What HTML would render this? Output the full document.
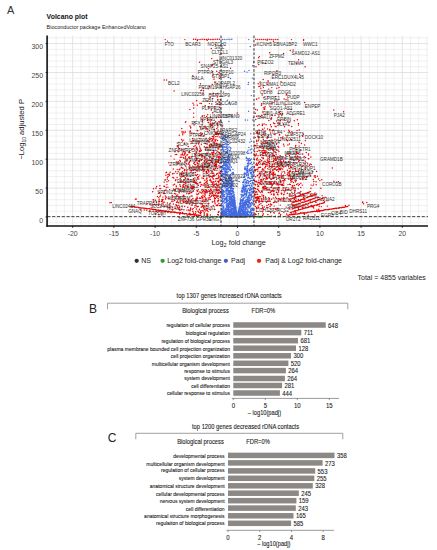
<!DOCTYPE html><html><head><meta charset="utf-8"><style>html,body{margin:0;padding:0;background:#fff;width:437px;height:550px;overflow:hidden}svg{display:block}text{font-family:"Liberation Sans",sans-serif}</style></head><body>
<svg width="437" height="550" viewBox="0 0 437 550">
<rect width="437" height="550" fill="#fff"/>
<text x="7" y="14.4" font-size="11" fill="#333">A</text>
<text x="46.6" y="19.2" font-size="6.9" font-weight="bold" fill="#111">Volcano plot</text>
<text x="46.6" y="29.4" font-size="5.45" fill="#222">Bioconductor package EnhancedVolcano</text>
<line x1="47.98" y1="35.6" x2="47.98" y2="226" stroke="#e8e8e8" stroke-width="0.6"/><line x1="56.22" y1="35.6" x2="56.22" y2="226" stroke="#e8e8e8" stroke-width="0.6"/><line x1="64.46" y1="35.6" x2="64.46" y2="226" stroke="#e8e8e8" stroke-width="0.6"/><line x1="72.70" y1="35.6" x2="72.70" y2="226" stroke="#dcdcdc" stroke-width="0.8"/><line x1="80.94" y1="35.6" x2="80.94" y2="226" stroke="#e8e8e8" stroke-width="0.6"/><line x1="89.18" y1="35.6" x2="89.18" y2="226" stroke="#e8e8e8" stroke-width="0.6"/><line x1="97.42" y1="35.6" x2="97.42" y2="226" stroke="#e8e8e8" stroke-width="0.6"/><line x1="105.66" y1="35.6" x2="105.66" y2="226" stroke="#e8e8e8" stroke-width="0.6"/><line x1="113.90" y1="35.6" x2="113.90" y2="226" stroke="#dcdcdc" stroke-width="0.8"/><line x1="122.14" y1="35.6" x2="122.14" y2="226" stroke="#e8e8e8" stroke-width="0.6"/><line x1="130.38" y1="35.6" x2="130.38" y2="226" stroke="#e8e8e8" stroke-width="0.6"/><line x1="138.62" y1="35.6" x2="138.62" y2="226" stroke="#e8e8e8" stroke-width="0.6"/><line x1="146.86" y1="35.6" x2="146.86" y2="226" stroke="#e8e8e8" stroke-width="0.6"/><line x1="155.10" y1="35.6" x2="155.10" y2="226" stroke="#dcdcdc" stroke-width="0.8"/><line x1="163.34" y1="35.6" x2="163.34" y2="226" stroke="#e8e8e8" stroke-width="0.6"/><line x1="171.58" y1="35.6" x2="171.58" y2="226" stroke="#e8e8e8" stroke-width="0.6"/><line x1="179.82" y1="35.6" x2="179.82" y2="226" stroke="#e8e8e8" stroke-width="0.6"/><line x1="188.06" y1="35.6" x2="188.06" y2="226" stroke="#e8e8e8" stroke-width="0.6"/><line x1="196.30" y1="35.6" x2="196.30" y2="226" stroke="#dcdcdc" stroke-width="0.8"/><line x1="204.54" y1="35.6" x2="204.54" y2="226" stroke="#e8e8e8" stroke-width="0.6"/><line x1="212.78" y1="35.6" x2="212.78" y2="226" stroke="#e8e8e8" stroke-width="0.6"/><line x1="221.02" y1="35.6" x2="221.02" y2="226" stroke="#e8e8e8" stroke-width="0.6"/><line x1="229.26" y1="35.6" x2="229.26" y2="226" stroke="#e8e8e8" stroke-width="0.6"/><line x1="237.50" y1="35.6" x2="237.50" y2="226" stroke="#dcdcdc" stroke-width="0.8"/><line x1="245.74" y1="35.6" x2="245.74" y2="226" stroke="#e8e8e8" stroke-width="0.6"/><line x1="253.98" y1="35.6" x2="253.98" y2="226" stroke="#e8e8e8" stroke-width="0.6"/><line x1="262.22" y1="35.6" x2="262.22" y2="226" stroke="#e8e8e8" stroke-width="0.6"/><line x1="270.46" y1="35.6" x2="270.46" y2="226" stroke="#e8e8e8" stroke-width="0.6"/><line x1="278.70" y1="35.6" x2="278.70" y2="226" stroke="#dcdcdc" stroke-width="0.8"/><line x1="286.94" y1="35.6" x2="286.94" y2="226" stroke="#e8e8e8" stroke-width="0.6"/><line x1="295.18" y1="35.6" x2="295.18" y2="226" stroke="#e8e8e8" stroke-width="0.6"/><line x1="303.42" y1="35.6" x2="303.42" y2="226" stroke="#e8e8e8" stroke-width="0.6"/><line x1="311.66" y1="35.6" x2="311.66" y2="226" stroke="#e8e8e8" stroke-width="0.6"/><line x1="319.90" y1="35.6" x2="319.90" y2="226" stroke="#dcdcdc" stroke-width="0.8"/><line x1="328.14" y1="35.6" x2="328.14" y2="226" stroke="#e8e8e8" stroke-width="0.6"/><line x1="336.38" y1="35.6" x2="336.38" y2="226" stroke="#e8e8e8" stroke-width="0.6"/><line x1="344.62" y1="35.6" x2="344.62" y2="226" stroke="#e8e8e8" stroke-width="0.6"/><line x1="352.86" y1="35.6" x2="352.86" y2="226" stroke="#e8e8e8" stroke-width="0.6"/><line x1="361.10" y1="35.6" x2="361.10" y2="226" stroke="#dcdcdc" stroke-width="0.8"/><line x1="369.34" y1="35.6" x2="369.34" y2="226" stroke="#e8e8e8" stroke-width="0.6"/><line x1="377.58" y1="35.6" x2="377.58" y2="226" stroke="#e8e8e8" stroke-width="0.6"/><line x1="385.82" y1="35.6" x2="385.82" y2="226" stroke="#e8e8e8" stroke-width="0.6"/><line x1="394.06" y1="35.6" x2="394.06" y2="226" stroke="#e8e8e8" stroke-width="0.6"/><line x1="402.30" y1="35.6" x2="402.30" y2="226" stroke="#dcdcdc" stroke-width="0.8"/><line x1="410.54" y1="35.6" x2="410.54" y2="226" stroke="#e8e8e8" stroke-width="0.6"/><line x1="418.78" y1="35.6" x2="418.78" y2="226" stroke="#e8e8e8" stroke-width="0.6"/><line x1="427.02" y1="35.6" x2="427.02" y2="226" stroke="#e8e8e8" stroke-width="0.6"/><line x1="47.4" y1="222.78" x2="428" y2="222.78" stroke="#e8e8e8" stroke-width="0.6"/><line x1="47.4" y1="217.00" x2="428" y2="217.00" stroke="#dcdcdc" stroke-width="0.8"/><line x1="47.4" y1="211.22" x2="428" y2="211.22" stroke="#e8e8e8" stroke-width="0.6"/><line x1="47.4" y1="205.44" x2="428" y2="205.44" stroke="#e8e8e8" stroke-width="0.6"/><line x1="47.4" y1="199.66" x2="428" y2="199.66" stroke="#e8e8e8" stroke-width="0.6"/><line x1="47.4" y1="193.88" x2="428" y2="193.88" stroke="#e8e8e8" stroke-width="0.6"/><line x1="47.4" y1="188.10" x2="428" y2="188.10" stroke="#dcdcdc" stroke-width="0.8"/><line x1="47.4" y1="182.32" x2="428" y2="182.32" stroke="#e8e8e8" stroke-width="0.6"/><line x1="47.4" y1="176.54" x2="428" y2="176.54" stroke="#e8e8e8" stroke-width="0.6"/><line x1="47.4" y1="170.76" x2="428" y2="170.76" stroke="#e8e8e8" stroke-width="0.6"/><line x1="47.4" y1="164.98" x2="428" y2="164.98" stroke="#e8e8e8" stroke-width="0.6"/><line x1="47.4" y1="159.20" x2="428" y2="159.20" stroke="#dcdcdc" stroke-width="0.8"/><line x1="47.4" y1="153.42" x2="428" y2="153.42" stroke="#e8e8e8" stroke-width="0.6"/><line x1="47.4" y1="147.64" x2="428" y2="147.64" stroke="#e8e8e8" stroke-width="0.6"/><line x1="47.4" y1="141.86" x2="428" y2="141.86" stroke="#e8e8e8" stroke-width="0.6"/><line x1="47.4" y1="136.08" x2="428" y2="136.08" stroke="#e8e8e8" stroke-width="0.6"/><line x1="47.4" y1="130.30" x2="428" y2="130.30" stroke="#dcdcdc" stroke-width="0.8"/><line x1="47.4" y1="124.52" x2="428" y2="124.52" stroke="#e8e8e8" stroke-width="0.6"/><line x1="47.4" y1="118.74" x2="428" y2="118.74" stroke="#e8e8e8" stroke-width="0.6"/><line x1="47.4" y1="112.96" x2="428" y2="112.96" stroke="#e8e8e8" stroke-width="0.6"/><line x1="47.4" y1="107.18" x2="428" y2="107.18" stroke="#e8e8e8" stroke-width="0.6"/><line x1="47.4" y1="101.40" x2="428" y2="101.40" stroke="#dcdcdc" stroke-width="0.8"/><line x1="47.4" y1="95.62" x2="428" y2="95.62" stroke="#e8e8e8" stroke-width="0.6"/><line x1="47.4" y1="89.84" x2="428" y2="89.84" stroke="#e8e8e8" stroke-width="0.6"/><line x1="47.4" y1="84.06" x2="428" y2="84.06" stroke="#e8e8e8" stroke-width="0.6"/><line x1="47.4" y1="78.28" x2="428" y2="78.28" stroke="#e8e8e8" stroke-width="0.6"/><line x1="47.4" y1="72.50" x2="428" y2="72.50" stroke="#dcdcdc" stroke-width="0.8"/><line x1="47.4" y1="66.72" x2="428" y2="66.72" stroke="#e8e8e8" stroke-width="0.6"/><line x1="47.4" y1="60.94" x2="428" y2="60.94" stroke="#e8e8e8" stroke-width="0.6"/><line x1="47.4" y1="55.16" x2="428" y2="55.16" stroke="#e8e8e8" stroke-width="0.6"/><line x1="47.4" y1="49.38" x2="428" y2="49.38" stroke="#e8e8e8" stroke-width="0.6"/><line x1="47.4" y1="43.60" x2="428" y2="43.60" stroke="#dcdcdc" stroke-width="0.8"/><line x1="47.4" y1="37.82" x2="428" y2="37.82" stroke="#e8e8e8" stroke-width="0.6"/>
<text x="270.1" y="212.2" font-size="4.6" fill="#333">SORCS2</text>
<text x="256.0" y="212.2" font-size="4.6" fill="#333">CDH12</text>
<text x="287.2" y="207.5" font-size="4.6" fill="#333">SDK1</text>
<text x="292.2" y="207.5" font-size="4.6" fill="#333">NKAIN3</text>
<text x="255.9" y="201.6" font-size="4.6" fill="#333">PLCB1</text>
<text x="274.3" y="201.6" font-size="4.6" fill="#333">LINC01122</text>
<text x="288.6" y="197.1" font-size="4.6" fill="#333">ERC2</text>
<text x="299.5" y="197.1" font-size="4.6" fill="#333">MECOM</text>
<text x="281.7" y="191.2" font-size="4.6" fill="#333">CELF2</text>
<text x="262.1" y="191.2" font-size="4.6" fill="#333">MECOM</text>
<text x="258.3" y="185.4" font-size="4.6" fill="#333">UNC5C</text>
<text x="266.0" y="185.4" font-size="4.6" fill="#333">NCAM2</text>
<text x="277.5" y="179.1" font-size="4.6" fill="#333">TBC1D5</text>
<text x="262.3" y="179.1" font-size="4.6" fill="#333">COL4A1</text>
<text x="287.9" y="174.7" font-size="4.6" fill="#333">OPCML</text>
<text x="258.8" y="174.7" font-size="4.6" fill="#333">SGCD</text>
<text x="290.0" y="169.9" font-size="4.6" fill="#333">NRG1</text>
<text x="268.1" y="169.9" font-size="4.6" fill="#333">SGCD</text>
<text x="258.1" y="165.0" font-size="4.6" fill="#333">GALNTL6</text>
<text x="276.9" y="165.0" font-size="4.6" fill="#333">FBXL7</text>
<text x="279.6" y="159.7" font-size="4.6" fill="#333">ZNF385D</text>
<text x="267.1" y="159.7" font-size="4.6" fill="#333">PTPRM</text>
<text x="284.5" y="155.4" font-size="4.6" fill="#333">NRG1</text>
<text x="286.0" y="155.4" font-size="4.6" fill="#333">AKAP6</text>
<text x="255.9" y="148.9" font-size="4.6" fill="#333">FAM155A</text>
<text x="260.3" y="143.6" font-size="4.6" fill="#333">MSRA</text>
<text x="202.8" y="210.1" font-size="4.6" fill="#333">NRG1</text>
<text x="166.9" y="210.1" font-size="4.6" fill="#333">NCAM2</text>
<text x="185.8" y="204.3" font-size="4.6" fill="#333">LINC02055</text>
<text x="179.3" y="204.3" font-size="4.6" fill="#333">CAMK2D</text>
<text x="174.2" y="199.5" font-size="4.6" fill="#333">PTPRM</text>
<text x="168.1" y="199.5" font-size="4.6" fill="#333">MDGA2</text>
<text x="203.3" y="193.0" font-size="4.6" fill="#333">GALNTL6</text>
<text x="177.9" y="193.0" font-size="4.6" fill="#333">PRKN</text>
<text x="182.8" y="188.1" font-size="4.6" fill="#333">MAML2</text>
<text x="204.2" y="188.1" font-size="4.6" fill="#333">ESRRG</text>
<text x="179.6" y="183.1" font-size="4.6" fill="#333">ABCA13</text>
<text x="176.9" y="183.1" font-size="4.6" fill="#333">DLGAP1</text>
<text x="179.0" y="177.2" font-size="4.6" fill="#333">CDK14</text>
<text x="202.5" y="177.2" font-size="4.6" fill="#333">ERC2</text>
<text x="206.4" y="171.0" font-size="4.6" fill="#333">FBXL7</text>
<text x="189.6" y="171.0" font-size="4.6" fill="#333">GRIK2</text>
<text x="197.0" y="166.5" font-size="4.6" fill="#333">DAB1</text>
<text x="203.2" y="161.2" font-size="4.6" fill="#333">SLC8A1</text>
<text x="202.2" y="156.5" font-size="4.6" fill="#333">CACNA1C</text>
<text x="204.9" y="151.4" font-size="4.6" fill="#333">SGCD</text>
<text x="209.3" y="146.9" font-size="4.6" fill="#333">GPHN</text>
<text x="189.3" y="141.6" font-size="4.6" fill="#333">LINC00609</text>
<path d="M167.5 41.1h0M197.4 40.4h0M207.2 40.3h0M215.3 44.4h0M211.3 48.5h0M219.9 54.4h0M211.7 58.6h0M199.6 62.3h0M208.3 68.8h0M230.6 68.2h0M213.0 74.1h0M192.9 75.7h0M166.6 80.0h0M214.0 79.2h0M200.5 83.8h0M217.3 83.5h0M201.7 90.2h0M223.6 92.1h0M210.1 97.2h0M217.6 99.7h0M217.2 104.0h0M219.6 107.3h0M212.7 112.8h0M202.3 116.0h0M237.2 113.0h0M202.0 119.2h0M207.5 120.5h0M202.1 125.1h0M205.9 128.9h0M190.3 131.2h0M222.1 126.8h0M220.5 131.3h0M222.4 133.9h0M267.1 40.2h0M273.4 41.2h0M303.6 40.2h0M269.7 52.7h0M293.2 49.9h0M258.6 57.8h0M298.6 59.8h0M276.9 70.7h0M273.2 74.3h0M299.6 74.3h0M260.1 82.0h0M281.0 81.7h0M260.8 88.3h0M276.8 88.2h0M286.7 94.3h0M262.2 94.9h0M274.8 100.7h0M277.1 99.9h0M304.7 102.5h0M271.1 104.1h0M288.1 109.1h0M264.2 109.3h0M267.4 114.2h0M278.9 115.9h0M276.5 121.0h0M343.6 111.7h0M264.4 128.1h0M269.6 129.5h0M289.3 131.5h0M303.5 134.3h0M257.5 133.6h0M299.7 136.2h0" stroke="#e80000" stroke-width="1.45" stroke-linecap="round"/>
<path d="M233.9 216.5h0M250.2 216.3h0M240.0 216.6h0M240.1 217.0h0M246.0 216.6h0M240.7 216.7h0M243.5 216.9h0M228.6 216.4h0M234.8 216.4h0M231.3 216.4h0M242.9 216.9h0M245.4 216.6h0M236.4 216.5h0M253.7 216.7h0M231.2 216.9h0M238.5 217.0h0M243.3 216.7h0M231.6 216.6h0M235.8 216.3h0M226.6 216.3h0M234.2 216.9h0M229.5 216.6h0M231.2 217.0h0M249.3 216.5h0M235.7 216.6h0M231.1 216.6h0M241.2 216.8h0M228.1 216.8h0M231.3 216.6h0M238.4 216.3h0M231.2 216.3h0M244.6 216.9h0M236.0 216.5h0M244.3 216.9h0M230.3 216.9h0M230.2 216.9h0M243.3 216.6h0M242.1 216.6h0M247.3 216.7h0M233.4 216.5h0M232.6 216.7h0M233.0 216.8h0M238.5 216.6h0M233.8 216.8h0M229.7 216.8h0M241.2 216.3h0M247.6 216.8h0M237.7 216.7h0M241.5 217.0h0M237.6 216.8h0M233.6 216.8h0M234.6 216.8h0M233.0 216.3h0M234.5 216.9h0M233.5 216.4h0M234.7 217.0h0M233.1 216.9h0M242.3 216.9h0M228.9 216.4h0M238.4 216.6h0M240.5 216.7h0M235.9 216.6h0M227.4 216.6h0M234.9 216.9h0M240.2 216.5h0M243.8 216.3h0M235.5 216.6h0M240.4 216.3h0M228.7 216.6h0M228.6 216.8h0M239.2 217.0h0M241.4 216.3h0M229.9 216.3h0M236.9 216.4h0M243.7 216.8h0M242.2 216.5h0M234.5 216.9h0M238.0 216.3h0M229.8 216.6h0M226.3 216.6h0M240.3 216.3h0M246.3 216.7h0M221.0 216.9h0M234.2 216.3h0M243.7 216.3h0M230.0 216.7h0M242.9 216.6h0M234.0 216.7h0M232.6 216.4h0M235.1 216.8h0M236.2 216.4h0M238.2 216.9h0M226.6 216.4h0M244.3 216.6h0M243.5 216.7h0M242.1 216.8h0M234.8 217.0h0M232.3 217.0h0M231.4 217.0h0M242.9 216.9h0M242.4 216.4h0M230.0 216.9h0M237.4 216.8h0M242.7 216.3h0M250.5 216.6h0M242.2 216.3h0M239.8 216.5h0M252.1 216.7h0M228.4 216.3h0M245.7 217.0h0M235.4 216.7h0M236.4 216.9h0M248.0 216.6h0M223.8 216.8h0M246.0 216.8h0M244.7 216.5h0M237.2 216.3h0M231.9 217.0h0M233.2 216.8h0M233.8 216.6h0M239.2 216.6h0M222.0 216.5h0M244.5 216.6h0M222.6 216.4h0M245.2 216.9h0M231.4 216.6h0M233.7 216.5h0M239.2 216.8h0M222.1 216.8h0M241.3 216.6h0M240.7 216.4h0M253.0 216.3h0M253.9 216.8h0M240.7 217.0h0M239.5 216.7h0M226.7 216.4h0M238.7 216.6h0M235.2 216.3h0M230.8 216.5h0M245.8 216.6h0M235.7 216.7h0M236.3 216.4h0M250.0 216.8h0M239.7 216.3h0M234.7 216.7h0M244.6 216.8h0M234.9 216.8h0M251.0 216.3h0M238.7 216.8h0M230.3 216.9h0M237.0 216.5h0M228.5 216.4h0M239.5 216.4h0M231.9 216.7h0M244.7 217.0h0M238.2 216.7h0M238.2 216.7h0M236.3 216.8h0M245.0 216.4h0M235.2 216.4h0M243.8 216.8h0M228.1 216.7h0M233.5 216.8h0M238.0 216.9h0M244.0 216.8h0M233.7 216.7h0M237.5 216.8h0M240.6 217.0h0M221.9 216.4h0M232.3 216.5h0M239.1 216.7h0M235.6 217.0h0M228.5 216.5h0M237.4 216.8h0M229.8 216.3h0M230.6 216.3h0M229.5 216.4h0M241.1 216.7h0M240.8 216.3h0M248.4 216.5h0M244.6 216.4h0M241.7 216.4h0M228.1 216.7h0M252.1 216.7h0M236.4 216.9h0M233.5 216.6h0M232.1 216.8h0M237.5 216.9h0M227.7 216.3h0M241.4 216.7h0M241.0 216.9h0M241.2 216.5h0M238.9 216.6h0M231.3 216.4h0M242.7 216.3h0M237.4 216.4h0M237.7 216.4h0M236.7 216.7h0M242.7 216.4h0M236.6 216.4h0M235.1 216.7h0M237.2 216.6h0M240.1 216.3h0M229.0 216.7h0M231.8 216.4h0M240.5 216.7h0M235.6 216.6h0M234.9 216.4h0M240.8 216.6h0M239.6 216.5h0M225.4 216.7h0M237.5 216.4h0M241.0 217.0h0M235.3 216.8h0M229.4 216.7h0M245.0 216.5h0M240.7 216.5h0M242.7 216.4h0M238.5 216.9h0M242.3 216.5h0M236.9 216.6h0M246.0 216.7h0M242.0 216.4h0M221.0 216.5h0M245.1 217.0h0M239.3 216.5h0M242.0 216.7h0M228.4 216.3h0M223.3 216.7h0M231.6 216.5h0M239.3 217.0h0M226.6 216.3h0M236.6 216.9h0M232.9 216.8h0M236.8 216.6h0M247.4 216.5h0M233.3 216.7h0M254.0 216.4h0M228.1 216.8h0M248.6 216.3h0M241.4 216.9h0M239.0 216.3h0M233.9 216.7h0M249.8 216.9h0M240.4 216.3h0M234.0 216.3h0M246.6 216.5h0M251.8 216.6h0M242.2 216.5h0M241.1 216.4h0M241.3 216.3h0M239.8 216.5h0M232.2 216.6h0M236.9 216.9h0M232.9 216.7h0M231.6 216.3h0M241.0 217.0h0M233.1 216.8h0M249.8 216.8h0M237.0 216.5h0M226.7 217.0h0M246.5 216.4h0M235.3 216.8h0M227.3 216.6h0M226.6 216.6h0M240.4 216.8h0M234.8 216.8h0M231.9 216.7h0M236.8 216.9h0M234.9 216.4h0M239.0 216.9h0M235.4 216.3h0M234.9 216.3h0M242.5 216.4h0M227.3 216.8h0M232.7 216.4h0M240.3 216.5h0M241.9 216.9h0M249.8 216.5h0M244.8 216.7h0M235.1 216.5h0M227.5 216.8h0M240.4 216.9h0M236.1 216.5h0M236.4 216.9h0M242.9 216.8h0M238.8 216.8h0M234.7 216.5h0M224.2 216.6h0M253.5 216.7h0M242.2 216.5h0M232.2 216.9h0M242.9 216.4h0M246.4 216.6h0M238.5 216.8h0M228.2 216.8h0M228.4 216.9h0M228.6 216.4h0M238.1 216.8h0M232.2 216.6h0" stroke="#4d4d4d" stroke-width="1.45" stroke-linecap="round"/>
<path d="M197.5 217.0h0M259.4 216.9h0M185.5 216.9h0M219.4 216.7h0M260.4 216.8h0M259.2 216.9h0M193.2 217.0h0M275.3 216.3h0M183.6 216.9h0M259.7 216.4h0M261.3 216.9h0M219.7 216.5h0M260.8 216.4h0M216.4 216.6h0M304.3 216.6h0M278.2 216.7h0M255.1 216.6h0M206.2 216.4h0M297.6 217.0h0M258.5 216.3h0M280.2 216.8h0M261.9 217.0h0M213.8 216.6h0M189.0 216.5h0M260.8 216.8h0M256.5 216.8h0M275.3 216.8h0M300.0 216.9h0M260.3 216.9h0M261.4 216.6h0M212.4 216.9h0M216.4 216.7h0M255.5 216.6h0M256.2 216.6h0M257.8 216.4h0M216.1 216.8h0M257.2 216.7h0M209.8 216.9h0M219.7 217.0h0M206.2 216.3h0M213.8 216.7h0M205.3 216.6h0M262.3 216.8h0M275.1 216.6h0M267.8 216.4h0M269.3 216.5h0M212.4 216.9h0M266.9 216.7h0M258.2 216.7h0M258.5 216.7h0M214.7 216.4h0M271.5 216.4h0M207.1 216.8h0M201.4 216.5h0M211.1 216.8h0M197.5 216.7h0M283.7 216.6h0M258.1 216.9h0M220.1 216.8h0M216.8 216.6h0" stroke="#228b22" stroke-width="1.45" stroke-linecap="round"/>
<path d="M223.5 213.5h0M227.8 188.7h0M251.2 199.0h0M226.5 189.8h0M226.9 213.8h0M222.8 200.9h0M238.1 213.5h0M230.2 191.5h0M231.1 203.1h0M242.7 213.7h0M249.3 206.8h0M245.3 186.9h0M233.6 199.0h0M253.6 172.3h0M246.3 211.6h0M245.5 190.1h0M244.0 211.3h0M228.3 208.8h0M227.0 206.3h0M251.3 159.1h0M244.4 215.2h0M224.6 139.8h0M225.1 164.1h0M232.9 182.9h0M249.0 201.9h0M248.5 174.9h0M231.9 204.5h0M240.9 203.4h0M235.9 206.8h0M227.7 206.4h0M242.9 211.0h0M235.7 209.2h0M243.9 209.5h0M242.2 213.7h0M233.0 200.0h0M229.0 192.3h0M231.3 188.9h0M251.4 202.5h0M226.2 174.8h0M222.8 197.0h0M222.4 215.5h0M233.6 215.3h0M225.1 161.4h0M230.4 192.8h0M240.4 199.0h0M227.8 175.8h0M228.9 181.1h0M231.3 198.8h0M244.3 204.6h0M222.4 130.3h0M253.2 210.4h0M226.7 188.5h0M230.6 203.6h0M239.5 209.1h0M233.5 215.7h0M241.0 208.7h0M252.5 209.3h0M251.5 169.1h0M244.7 214.1h0M230.3 190.2h0M244.0 179.7h0M235.0 210.3h0M226.4 181.6h0M229.0 209.2h0M228.7 182.8h0M226.3 161.7h0M231.7 178.9h0M247.6 190.6h0M228.5 191.2h0M241.7 213.8h0M228.4 161.2h0M234.8 210.3h0M244.8 194.1h0M249.6 170.9h0M229.2 201.3h0M243.9 214.0h0M251.5 197.5h0M235.4 215.8h0M234.0 204.7h0M222.5 209.5h0M239.3 214.2h0M249.0 203.3h0M246.1 169.0h0M245.7 209.6h0M233.0 202.9h0M222.0 215.1h0M238.8 209.0h0M232.8 208.9h0M222.7 195.3h0M247.1 172.2h0M252.2 164.4h0M231.7 212.8h0M235.3 209.7h0M227.1 141.8h0M243.1 214.0h0M223.0 165.5h0M233.3 214.2h0M243.1 182.2h0M226.2 196.9h0M225.8 185.6h0M247.9 200.3h0M226.0 193.3h0M251.1 189.9h0M222.9 212.2h0M224.1 210.8h0M226.2 180.1h0M233.1 189.6h0M252.6 200.1h0M247.2 212.3h0M243.1 202.8h0M233.9 212.3h0M252.8 208.2h0M225.6 210.7h0M227.3 196.3h0M226.6 209.6h0M243.1 184.2h0M234.2 198.1h0M251.9 170.6h0M226.6 209.3h0M221.7 214.5h0M224.0 163.2h0M246.3 157.1h0M249.4 185.4h0M253.4 173.2h0M228.3 162.2h0M244.6 211.9h0M230.3 177.1h0M222.9 215.3h0M233.2 203.3h0M224.8 194.7h0M227.0 194.8h0M242.1 211.3h0M227.4 137.0h0M248.5 211.6h0M230.5 194.3h0M251.3 167.2h0M229.0 197.9h0M250.8 178.6h0M231.0 207.4h0M230.5 177.4h0M226.8 146.4h0M240.0 214.9h0M222.1 187.7h0M247.4 163.5h0M249.7 186.0h0M225.6 209.2h0M222.6 165.8h0M225.9 174.2h0M253.2 214.6h0M242.4 190.8h0M229.4 164.5h0M238.3 211.7h0M247.4 214.0h0M229.9 206.8h0M243.4 206.4h0M250.9 194.2h0M246.7 194.2h0M245.9 193.4h0M229.5 169.9h0M225.8 152.9h0M226.3 152.5h0M235.6 214.8h0M234.3 206.8h0M238.0 214.1h0M226.4 186.1h0M225.4 171.5h0M227.3 201.5h0M228.0 39.3h0M244.5 211.6h0M231.1 207.5h0M223.3 195.5h0M235.7 210.8h0M225.4 162.9h0M227.8 174.8h0M248.2 173.3h0M246.8 193.4h0M228.9 203.7h0M251.1 149.1h0M228.9 177.5h0M250.4 203.8h0M243.5 198.3h0M239.8 212.4h0M227.4 153.5h0M241.2 207.5h0M252.5 182.5h0M228.7 178.4h0M227.9 160.3h0M244.6 202.0h0M231.5 184.9h0M247.5 166.9h0M230.5 188.7h0M230.1 197.7h0M233.8 192.1h0M232.4 203.1h0M239.2 215.5h0M240.2 202.5h0M242.7 187.3h0M224.5 198.7h0M227.9 207.8h0M227.3 156.9h0M247.0 199.7h0M225.3 179.5h0M227.2 209.5h0M238.8 215.1h0M231.3 199.3h0M230.4 150.0h0M232.0 187.7h0M234.3 214.6h0M224.7 194.6h0M226.3 186.6h0M226.7 178.3h0M245.3 168.8h0M231.0 195.8h0M230.7 201.6h0M238.9 212.7h0M230.0 215.5h0M241.3 208.3h0M227.9 203.9h0M231.1 194.6h0M224.1 191.7h0M222.0 186.1h0M233.2 211.7h0M221.8 186.3h0M226.5 153.0h0M230.9 193.0h0M227.4 169.0h0M235.6 213.9h0M231.6 191.3h0M226.6 165.9h0M252.2 177.3h0M249.7 212.9h0M241.3 210.1h0M230.2 201.2h0M227.8 208.0h0M229.4 215.0h0M229.9 39.4h0M239.2 207.1h0M251.2 153.1h0M253.7 190.9h0M221.3 160.9h0M245.4 179.7h0M234.5 209.2h0M240.8 215.5h0M236.5 215.0h0M233.8 192.8h0M233.3 213.6h0M230.9 201.8h0M223.1 150.3h0M251.1 214.7h0M242.2 206.9h0M226.2 191.3h0M230.4 212.1h0M229.5 214.3h0M252.1 208.5h0M222.7 213.8h0M224.0 213.7h0M225.1 144.5h0M243.3 181.6h0M222.9 197.1h0M227.7 186.5h0M222.9 144.4h0M241.9 210.8h0M243.0 199.7h0M221.8 158.6h0M234.5 214.2h0M234.5 206.3h0M252.7 119.9h0M239.7 204.2h0M244.3 194.3h0M242.3 210.3h0M223.6 163.9h0M232.8 195.2h0M232.6 215.6h0M248.5 82.5h0M221.3 211.0h0M247.4 213.3h0M230.4 169.2h0M240.9 211.8h0M244.0 177.0h0M223.1 169.2h0M242.2 192.1h0M250.3 168.5h0M230.2 104.6h0M232.1 181.8h0M224.1 169.2h0M244.6 191.6h0M246.2 188.9h0M243.9 211.9h0M235.5 213.3h0M245.5 214.6h0M227.8 191.1h0M227.5 213.4h0M225.6 172.4h0M231.0 181.6h0M233.1 205.4h0M230.5 209.2h0M225.0 199.0h0M239.8 208.9h0M226.4 164.5h0M234.8 212.2h0M230.8 186.0h0M230.4 205.0h0M226.8 179.7h0M233.2 214.8h0M234.1 207.2h0M252.1 203.7h0M235.4 203.1h0M246.7 181.0h0M245.1 210.5h0M232.0 211.8h0M227.3 172.9h0M244.4 205.0h0M245.1 200.6h0M228.3 192.3h0M230.5 198.2h0M225.2 213.6h0M246.3 208.9h0M227.9 209.5h0M229.1 198.5h0M226.1 166.8h0M249.9 198.0h0M241.4 210.9h0M236.6 213.7h0M230.8 166.8h0M245.0 194.7h0M241.0 213.6h0M229.8 159.7h0M244.8 169.1h0M221.3 180.0h0M241.0 214.5h0M231.2 199.5h0M224.7 215.6h0M233.1 201.2h0M240.0 212.6h0M248.3 161.0h0M231.9 196.7h0M245.8 213.0h0M226.2 207.3h0M247.6 168.8h0M233.5 208.3h0M232.0 183.5h0M244.7 187.7h0M252.2 176.3h0M247.8 175.0h0M245.5 201.9h0M222.4 146.3h0M229.0 212.4h0M224.2 173.1h0M233.8 209.5h0M223.6 182.9h0M233.2 213.8h0M249.2 198.1h0M229.6 199.3h0M231.3 155.1h0M224.7 177.0h0M247.0 215.6h0M230.2 211.4h0M251.8 209.7h0M229.1 191.4h0M225.6 172.3h0M226.1 210.6h0M229.1 164.3h0M222.3 175.4h0M246.1 209.7h0M240.5 206.8h0M222.5 191.4h0M231.5 202.7h0M234.3 211.1h0M235.4 214.1h0M222.2 167.5h0M245.8 199.9h0M253.5 117.7h0M248.5 177.5h0M234.1 200.2h0M242.6 209.7h0M247.9 189.2h0M243.3 189.2h0M223.6 206.7h0M241.3 197.1h0M248.9 147.4h0M238.8 210.3h0M224.1 136.7h0M251.5 162.2h0M225.7 165.8h0M229.0 213.6h0M224.3 171.0h0M233.8 203.9h0M223.5 208.3h0M249.2 201.2h0M249.5 200.1h0M235.0 205.5h0M232.4 199.2h0M228.8 203.2h0M239.2 212.0h0M242.4 188.6h0M233.2 206.5h0M223.8 190.4h0M227.8 204.0h0M244.8 173.7h0M251.5 212.3h0M245.5 182.5h0M241.6 206.6h0M229.8 203.3h0M250.1 205.9h0M227.4 130.9h0M241.3 199.6h0M246.8 152.5h0M225.6 165.3h0M249.6 206.7h0M249.8 189.7h0M233.2 202.6h0M233.8 195.5h0M235.0 211.7h0M234.1 202.9h0M230.4 202.6h0M236.0 215.4h0M228.2 167.9h0M252.6 196.5h0M224.7 172.9h0M224.3 198.7h0M248.4 211.3h0M228.1 215.4h0M228.7 158.2h0M228.5 204.5h0M221.5 214.8h0M243.3 214.9h0M234.0 201.9h0M222.2 184.6h0M251.8 170.0h0M233.7 201.5h0M226.2 172.5h0M225.8 198.1h0M252.1 193.3h0M227.8 147.9h0M222.3 138.9h0M248.6 214.9h0M246.0 188.7h0M227.6 204.1h0M222.3 149.6h0M226.6 214.4h0M228.2 215.1h0M223.0 168.0h0M239.1 208.6h0M241.2 206.1h0M227.4 203.5h0M229.2 207.8h0M233.7 200.5h0M246.6 204.2h0M229.7 193.2h0M224.5 196.6h0M231.1 214.9h0M229.5 191.0h0M222.2 205.5h0M246.9 203.3h0M240.1 206.5h0M231.6 159.1h0M250.7 214.6h0M222.5 138.9h0M227.0 148.6h0M242.8 188.6h0M233.6 206.9h0M242.9 204.8h0M222.6 173.6h0M221.7 194.4h0M226.7 211.8h0M229.9 175.5h0M229.3 179.4h0M241.0 208.0h0M249.3 158.4h0M247.4 165.7h0M235.8 209.3h0M222.7 206.0h0M246.2 201.7h0M230.1 175.9h0M232.7 174.5h0M246.3 191.5h0M243.2 190.1h0M227.2 164.6h0M242.3 204.5h0M228.1 181.1h0M249.9 215.5h0M223.6 179.2h0M230.7 193.9h0M246.1 202.7h0M227.3 150.7h0M222.8 210.2h0M228.3 191.3h0M227.5 151.0h0M245.1 208.7h0M231.2 183.1h0M237.3 215.7h0M238.7 215.6h0M228.0 155.9h0M226.6 197.5h0M228.3 196.6h0M223.6 140.3h0M239.0 211.3h0M222.5 159.1h0M227.9 210.7h0M234.8 212.5h0M221.9 189.4h0M230.7 177.2h0M231.2 179.9h0M226.8 86.0h0M227.1 186.5h0M226.2 159.4h0M246.2 192.3h0M239.4 212.5h0M241.8 194.8h0M224.1 200.6h0M230.1 135.6h0M247.2 213.5h0M229.3 154.5h0M243.3 200.6h0M241.8 197.0h0M224.8 167.7h0M245.7 206.3h0M226.1 168.8h0M222.4 187.3h0M234.4 215.0h0M235.9 213.1h0M246.0 185.9h0M243.0 207.7h0M222.6 211.0h0M242.3 210.0h0M231.3 187.5h0M232.4 213.8h0M231.6 187.4h0M225.2 175.3h0M232.3 203.7h0M252.4 196.7h0M223.4 174.7h0M222.6 168.0h0M230.6 214.7h0M229.9 214.4h0M248.6 188.4h0M243.1 207.9h0M232.1 214.7h0M229.0 210.7h0M227.5 205.7h0M244.6 203.3h0M224.3 159.1h0M227.1 188.1h0M243.7 208.6h0M231.9 199.1h0M242.1 196.4h0M226.8 160.6h0M250.3 172.4h0M225.2 157.6h0M222.9 184.8h0M228.7 187.7h0M227.3 162.4h0M244.0 198.3h0M232.0 198.2h0M249.0 70.5h0M241.4 214.9h0M236.3 215.4h0M251.0 204.7h0M221.9 214.4h0M221.3 175.2h0M242.9 192.2h0M246.5 208.7h0M231.7 208.6h0M232.8 208.5h0M240.0 209.4h0M239.7 214.3h0M239.7 206.4h0M233.1 202.2h0M231.1 197.3h0M243.3 189.1h0M247.7 207.0h0M237.2 215.4h0M234.1 206.0h0M246.5 175.8h0M239.0 213.0h0M235.5 213.8h0M221.4 193.2h0M227.3 206.3h0M224.1 210.5h0M223.8 157.8h0M223.8 211.8h0M248.0 199.9h0M226.1 39.6h0M236.9 213.2h0M226.2 171.5h0M223.3 211.8h0M239.6 214.9h0M231.1 213.3h0M222.9 215.6h0M247.9 185.4h0M225.5 180.5h0M230.7 214.7h0M251.8 203.0h0M225.7 208.6h0M227.2 151.7h0M225.4 187.1h0M227.1 206.3h0M238.2 214.2h0M253.6 180.2h0M245.6 215.4h0M233.8 212.0h0M227.5 160.0h0M248.5 181.9h0M252.9 203.5h0M247.9 210.5h0M245.9 186.6h0M245.7 207.1h0M233.4 196.7h0M234.7 199.9h0M223.0 148.8h0M242.7 211.4h0M230.4 199.0h0M246.9 199.3h0M230.2 197.7h0M224.8 186.5h0M250.5 170.4h0M231.6 200.6h0M243.7 188.0h0M237.1 214.8h0M252.3 174.7h0M221.4 152.7h0M241.2 197.3h0M227.5 206.9h0M224.1 168.3h0M223.5 161.9h0M246.6 203.6h0M241.9 196.4h0M224.6 157.2h0M252.7 65.7h0M223.8 211.9h0M242.0 194.5h0M252.5 183.0h0M240.3 204.7h0M221.4 214.3h0M232.8 214.6h0M239.0 212.2h0M232.5 188.6h0M238.3 214.6h0M224.3 215.0h0M243.0 187.9h0M235.8 207.8h0M233.7 206.8h0M252.2 178.1h0M223.6 151.4h0M244.2 214.5h0M232.9 200.6h0M225.4 199.3h0M228.9 207.5h0M227.8 185.1h0M245.0 201.4h0M229.3 167.2h0M227.0 165.6h0M227.8 208.4h0M244.1 207.0h0M243.3 212.9h0M231.0 212.3h0M252.1 209.4h0M230.9 148.3h0M235.7 214.3h0M247.4 191.7h0M235.2 213.6h0M225.6 199.1h0M247.3 190.7h0M239.6 212.2h0M234.9 206.3h0M244.5 173.5h0M224.5 185.3h0M222.7 167.7h0M232.7 206.4h0M250.8 211.4h0M231.6 212.7h0M240.5 214.4h0M231.5 205.2h0M232.0 204.9h0M240.2 215.8h0M235.4 214.7h0M227.0 163.2h0M243.4 199.6h0M233.2 211.4h0M226.2 183.9h0M243.5 186.5h0M238.7 210.9h0M222.3 195.1h0M239.1 212.4h0M228.3 203.7h0M229.5 182.7h0M239.5 212.5h0M241.9 215.3h0M226.1 213.9h0M248.0 204.4h0M226.7 215.7h0M229.1 164.1h0M227.3 209.3h0M252.4 166.8h0M248.0 177.4h0M245.5 188.8h0M245.1 210.4h0M222.1 166.7h0M249.1 196.2h0M221.9 212.8h0M243.7 182.2h0M231.6 213.5h0M226.9 144.0h0M251.3 214.5h0M243.1 202.7h0M236.6 212.7h0M246.9 202.6h0M243.7 209.2h0M247.7 214.5h0M226.0 211.6h0M235.1 214.5h0M243.4 195.7h0M245.2 202.7h0M223.7 183.5h0M247.0 205.1h0M230.4 147.6h0M221.9 206.3h0M253.2 192.2h0M245.2 173.6h0M228.2 158.1h0M243.7 203.1h0M234.0 197.1h0M227.6 207.0h0M252.7 188.1h0M244.5 173.0h0M221.4 160.0h0M232.1 197.0h0M227.9 194.6h0M225.5 153.3h0M238.9 211.1h0M233.3 214.4h0M233.5 184.9h0M249.9 195.3h0M222.7 193.5h0M228.2 190.2h0M234.0 204.8h0M227.0 189.4h0M244.2 202.9h0M226.4 193.0h0M231.8 212.9h0M248.9 205.9h0M246.4 174.4h0M222.9 201.7h0M253.6 176.3h0M245.5 168.5h0M242.1 195.3h0M231.9 203.2h0M251.9 184.9h0M223.8 215.3h0M223.2 167.0h0M246.9 170.7h0M251.5 152.3h0M222.4 201.7h0M232.7 203.5h0M246.5 214.9h0M235.7 210.6h0M244.3 215.7h0M247.6 120.1h0M221.5 167.6h0M232.2 182.9h0M232.9 191.6h0M242.8 207.8h0M231.2 213.3h0M250.8 195.8h0M233.6 173.7h0M250.5 187.5h0M226.0 215.3h0M251.5 196.4h0M233.0 204.0h0M240.8 213.1h0M221.4 161.0h0M222.1 138.9h0M224.2 182.4h0M238.4 212.2h0M223.4 182.1h0M239.1 214.8h0M235.4 207.9h0M246.9 214.0h0M253.0 215.4h0M250.9 210.7h0M241.5 208.6h0M231.4 167.2h0M248.1 208.1h0M238.6 215.4h0M242.3 202.7h0M243.4 185.6h0M227.2 198.3h0M223.7 161.2h0M247.5 170.1h0M224.2 39.4h0M247.4 204.6h0M244.0 215.0h0M246.8 160.5h0M226.5 175.0h0M235.2 206.4h0M245.9 214.6h0M242.8 198.9h0M231.8 209.9h0M232.9 169.3h0M251.4 185.8h0M244.6 213.2h0M224.7 165.6h0M229.1 204.2h0M240.0 205.9h0M253.4 201.6h0M251.7 213.9h0M231.7 193.4h0M229.8 165.0h0M223.1 137.2h0M233.1 193.3h0M235.1 204.7h0M221.9 200.9h0M230.5 170.7h0M252.3 171.2h0M247.5 163.3h0M224.0 186.8h0M227.9 208.4h0M245.0 190.7h0M221.8 186.3h0M246.8 172.0h0M245.4 200.4h0M236.7 212.4h0M228.1 184.7h0M243.7 188.0h0M244.0 195.1h0M248.3 165.8h0M243.5 202.6h0M229.7 183.2h0M253.2 202.5h0M248.3 170.1h0M228.5 205.4h0M242.3 201.3h0M244.9 185.7h0M245.8 209.0h0M231.9 197.2h0M239.9 213.1h0M252.2 175.6h0M229.5 102.5h0M241.2 213.8h0M225.9 202.6h0M243.6 196.1h0M232.3 213.2h0M222.6 194.0h0M231.3 214.6h0M231.1 199.0h0M246.3 195.6h0M232.1 188.3h0M229.1 204.0h0M221.3 136.1h0M229.4 192.0h0M250.1 163.8h0M249.6 160.7h0M225.9 169.1h0M252.1 186.3h0M243.6 177.2h0M223.4 151.9h0M221.8 215.2h0M232.5 212.4h0M221.5 122.3h0M224.9 168.0h0M246.7 214.8h0M233.1 180.4h0M221.6 176.5h0M222.9 184.9h0M239.1 208.0h0M248.7 207.0h0M225.2 183.3h0M233.1 212.6h0M233.6 192.0h0M242.5 188.0h0M223.4 132.4h0M243.6 210.7h0M248.5 200.7h0M234.2 194.4h0M228.8 191.2h0M230.3 203.1h0M232.0 201.1h0M233.4 204.0h0M238.2 215.0h0M245.1 206.6h0M239.5 211.9h0M250.3 194.6h0M238.3 213.7h0M247.1 190.8h0M225.6 137.3h0M250.5 209.8h0M230.0 215.7h0M226.5 212.7h0M248.0 180.5h0M221.3 214.9h0M226.8 183.7h0M229.2 204.0h0M241.5 206.0h0M223.3 173.8h0M222.6 199.8h0M225.6 177.1h0M229.8 160.8h0M228.5 155.9h0M244.6 204.7h0M244.3 195.1h0M224.6 212.6h0M237.8 215.6h0M250.1 212.0h0M251.9 196.0h0M242.0 209.7h0M235.1 200.8h0M228.8 190.2h0M224.8 147.3h0M248.5 215.2h0M236.6 211.4h0M242.5 205.1h0M225.9 170.2h0M238.6 215.1h0M222.2 162.2h0M235.2 209.5h0M227.6 159.1h0M241.0 206.6h0M247.7 151.6h0M228.9 185.2h0M222.2 190.5h0M253.2 190.9h0M246.2 213.2h0M230.9 208.1h0M232.1 182.7h0M224.5 214.5h0M249.9 142.2h0M235.3 207.1h0M226.0 202.4h0M223.0 192.1h0M233.2 207.1h0M228.3 211.7h0M223.7 150.5h0M239.8 209.0h0M233.3 172.4h0M229.6 150.7h0M229.2 200.9h0M230.0 162.9h0M231.0 214.0h0M233.4 174.3h0M229.9 196.1h0M243.1 185.1h0M230.7 210.9h0M245.5 182.1h0M248.9 192.8h0M248.1 214.1h0M231.3 177.6h0M242.7 212.3h0M240.5 215.6h0M221.4 171.9h0M245.3 120.0h0M226.0 202.2h0M228.3 208.8h0M235.8 215.8h0M240.1 202.2h0M228.7 163.2h0M222.6 196.4h0M226.9 215.7h0M232.9 199.0h0M235.9 213.1h0M248.7 204.4h0M221.8 211.5h0M240.4 200.8h0M233.9 199.3h0M239.6 212.0h0M251.3 176.2h0M248.0 215.3h0M222.3 39.4h0M247.8 197.8h0M241.3 191.8h0M221.7 162.5h0M228.7 212.3h0M228.0 211.6h0M248.8 163.6h0M231.7 215.4h0M247.7 158.8h0M226.4 209.6h0M248.8 164.0h0M225.6 169.0h0M228.1 208.4h0M233.4 196.0h0M251.2 173.0h0M233.5 215.2h0M248.3 202.2h0M248.7 39.6h0M248.2 195.6h0M226.5 199.8h0M246.8 185.1h0M232.7 195.9h0M235.5 215.6h0M224.4 196.3h0M222.5 147.9h0M248.2 196.5h0M249.9 178.4h0M232.2 201.6h0M242.0 188.7h0M222.3 149.4h0M235.3 205.5h0M250.2 215.2h0M248.6 211.8h0M245.0 183.1h0M252.6 178.0h0M222.9 212.5h0M243.1 189.3h0M229.4 156.9h0M222.6 198.8h0M237.8 215.3h0M240.7 215.3h0M224.8 199.6h0M230.6 214.6h0M229.0 202.2h0M232.2 205.3h0M236.0 215.5h0M233.3 214.1h0M230.9 175.6h0M227.6 144.2h0M251.8 174.3h0M245.2 201.3h0M248.7 111.3h0M242.9 200.2h0M248.0 173.3h0M222.0 191.2h0M224.6 177.8h0M248.8 211.5h0M250.9 190.1h0M234.6 212.7h0M244.3 194.8h0M248.4 200.4h0M245.0 166.6h0M234.1 209.4h0M226.8 190.2h0M251.7 210.3h0M233.2 190.9h0M238.4 214.6h0M243.5 200.3h0M235.2 207.0h0M249.6 190.8h0M233.3 200.3h0M241.0 194.8h0M231.1 179.9h0M252.6 176.4h0M235.0 201.9h0M236.0 210.5h0M232.5 211.8h0M241.8 213.3h0M231.6 183.0h0M226.3 203.0h0M246.4 208.0h0M243.6 203.8h0M235.3 208.0h0M248.9 196.9h0M225.0 212.6h0M229.6 194.5h0M229.1 147.0h0M241.0 200.4h0M233.9 212.6h0M243.6 203.8h0M244.8 197.4h0M224.7 136.2h0M223.9 163.7h0M234.4 210.4h0M227.7 165.9h0M224.7 162.1h0M239.3 215.7h0M244.5 71.3h0M234.6 213.1h0M248.1 171.6h0M227.6 142.3h0M251.3 195.0h0M221.9 173.9h0M232.0 209.7h0M222.7 191.1h0M230.0 137.8h0M232.6 206.6h0M229.9 180.5h0M247.5 205.4h0M228.8 200.5h0M235.3 215.0h0M251.4 194.7h0M245.1 210.7h0M229.9 206.4h0M247.6 170.9h0M241.9 205.5h0M250.8 189.7h0M238.6 214.9h0M238.9 215.4h0M223.1 205.6h0M235.0 207.2h0M247.2 180.5h0M250.8 133.7h0M247.4 201.7h0M221.6 208.9h0M226.3 200.2h0M228.2 200.2h0M247.4 201.8h0M239.8 203.9h0M224.7 211.2h0M236.2 211.5h0M234.1 213.4h0M229.5 179.2h0M225.9 212.6h0M238.3 213.6h0M228.3 203.5h0M246.0 201.1h0M232.5 199.4h0M243.8 205.4h0M244.1 181.0h0M229.5 176.2h0M244.6 168.3h0M249.7 203.2h0M221.5 189.5h0M240.6 202.6h0M250.6 139.1h0M250.1 149.9h0M245.1 207.2h0M234.7 214.0h0M239.0 212.9h0M245.3 205.8h0M236.1 213.5h0M221.5 193.1h0M224.4 200.1h0M232.4 215.2h0M230.4 196.3h0M242.8 182.4h0M239.9 213.8h0M244.9 190.2h0M251.9 189.0h0M245.5 213.8h0M253.7 173.1h0M241.3 210.1h0M234.8 211.9h0M230.9 201.1h0M223.4 194.8h0M248.9 214.2h0M244.9 187.9h0M249.1 177.8h0M228.1 209.8h0M229.3 211.2h0M245.0 213.1h0M230.5 186.9h0M229.4 192.7h0M234.2 208.1h0M222.8 186.3h0M223.9 146.6h0M226.2 197.4h0M247.5 191.9h0M243.3 204.4h0M240.8 200.6h0M247.6 206.0h0M226.3 202.1h0M234.4 208.1h0M223.7 158.5h0M231.8 202.5h0M224.1 149.9h0M228.0 169.4h0M226.4 152.6h0M245.7 212.0h0M249.9 170.5h0M232.4 172.8h0M251.8 180.4h0M251.2 188.3h0M245.3 190.9h0M244.6 194.4h0M224.9 192.1h0M226.3 200.4h0M231.6 206.1h0M228.3 194.4h0M226.3 199.8h0M251.4 191.7h0M230.2 183.0h0M232.7 214.0h0M241.7 214.6h0M242.6 202.6h0M244.2 190.1h0M242.8 210.8h0M232.9 189.0h0M224.4 213.2h0M224.5 185.3h0M243.4 208.3h0M249.1 184.9h0M251.1 189.1h0M232.1 190.5h0M248.0 171.6h0M228.5 144.6h0M246.3 170.3h0M222.2 181.3h0M229.6 203.7h0M231.0 207.9h0M248.3 183.3h0M241.8 209.9h0M228.3 171.6h0M231.7 211.8h0M251.6 185.5h0M227.7 206.4h0M235.5 208.8h0M225.8 198.2h0M229.9 198.1h0M249.1 181.8h0M240.3 206.3h0M225.4 175.0h0M246.3 204.6h0M252.5 78.1h0M231.0 195.6h0M229.0 215.4h0M250.6 215.5h0M232.5 185.2h0M233.4 213.5h0M247.8 185.5h0M223.0 208.1h0M224.8 209.1h0M225.9 159.7h0M243.5 195.3h0M243.2 206.1h0M245.1 167.7h0M243.3 205.5h0M243.1 212.8h0M253.0 182.7h0M250.2 160.4h0M225.7 190.2h0M224.0 207.0h0M236.5 212.1h0M246.1 173.4h0M229.9 143.2h0M226.1 212.1h0M239.5 203.9h0M233.9 214.6h0M230.9 193.3h0M243.2 214.4h0M232.6 204.7h0M246.2 203.9h0M251.2 205.6h0M231.4 181.2h0M235.2 215.5h0M227.6 150.8h0M225.1 188.1h0M229.1 215.8h0M227.1 195.8h0M225.2 180.3h0M225.0 182.8h0M238.3 214.7h0M233.1 191.6h0M223.1 201.3h0M241.8 211.0h0M247.7 153.6h0M243.4 187.9h0M253.5 214.7h0M242.7 209.1h0M226.2 171.9h0M241.2 214.7h0M244.2 215.3h0M232.1 209.4h0M236.3 211.6h0M226.7 179.9h0M229.4 187.5h0M238.6 210.6h0M244.5 176.4h0M232.5 192.1h0M243.8 198.0h0M252.0 172.1h0M225.3 143.6h0M230.1 210.2h0M250.5 180.8h0M233.8 196.9h0M227.9 196.6h0M231.2 205.8h0M247.3 168.5h0M253.5 210.6h0M222.7 136.9h0M224.0 200.9h0M232.8 215.5h0M228.2 193.7h0M246.8 166.7h0M231.7 198.8h0M240.8 214.6h0M242.9 214.6h0M231.5 190.7h0M248.2 84.4h0M236.0 210.8h0M233.4 212.8h0M224.0 138.5h0M225.2 159.5h0M248.1 159.4h0M250.7 211.5h0M228.1 207.0h0M240.4 210.8h0M225.7 164.8h0M243.2 207.2h0M232.1 186.0h0M221.7 166.6h0M225.8 149.5h0M244.3 212.0h0M236.1 211.5h0M230.7 213.3h0M229.0 213.9h0M223.5 191.9h0M223.1 204.1h0M225.8 179.6h0M244.0 215.4h0M227.7 211.3h0M228.7 182.0h0M227.1 185.0h0M231.8 39.3h0M234.4 198.3h0M234.7 215.8h0M231.5 215.2h0M231.2 177.9h0M230.4 165.1h0M227.3 152.6h0M238.5 215.4h0M248.2 211.9h0M231.2 209.9h0M243.1 215.0h0M223.8 196.6h0M249.7 193.1h0M246.5 194.6h0M234.6 203.7h0M225.3 173.1h0M223.1 165.6h0M232.1 157.3h0M247.2 212.5h0M233.6 206.7h0M241.0 214.4h0M231.5 215.6h0M223.6 212.1h0M242.3 195.3h0M250.0 215.8h0M230.2 199.7h0M239.6 206.6h0M224.0 142.6h0M226.7 214.5h0M234.3 195.9h0M229.6 212.8h0M232.2 214.5h0M232.5 201.4h0M225.2 202.3h0M226.1 174.8h0M223.7 174.4h0M232.1 197.0h0M246.8 170.1h0M227.1 184.1h0M224.3 168.3h0M247.9 199.3h0M240.7 214.1h0M224.5 154.1h0M245.7 206.1h0M228.9 168.7h0M228.9 121.4h0M244.8 215.2h0M231.9 209.2h0M250.8 163.5h0M223.1 209.0h0M232.3 184.9h0M248.1 201.0h0M241.7 190.5h0M231.8 201.4h0M246.6 183.3h0M223.5 137.2h0M249.8 208.1h0M235.7 209.3h0M252.0 215.3h0M222.6 190.4h0M236.4 214.5h0M227.4 183.8h0M233.5 212.3h0M223.0 190.6h0M242.8 212.2h0M231.0 212.4h0M248.2 174.2h0M247.8 177.9h0M236.7 213.5h0M245.2 179.2h0M223.3 176.4h0M250.7 159.7h0M223.4 192.1h0M225.6 171.3h0M248.8 196.6h0M228.2 161.6h0M226.3 215.8h0M233.0 205.7h0M242.6 201.4h0M250.2 181.6h0M237.1 214.8h0M240.6 204.8h0M253.5 187.9h0M226.2 211.0h0M250.5 173.8h0M236.0 211.7h0M246.2 204.1h0M227.0 196.0h0M231.5 215.7h0M239.2 215.1h0M252.0 183.7h0M228.0 149.8h0M230.5 180.4h0M231.4 215.0h0M232.0 198.3h0M231.8 173.3h0M242.0 203.4h0M223.0 207.4h0M229.6 169.1h0M250.4 183.6h0M228.8 204.2h0M247.5 199.1h0M224.2 215.3h0M233.9 210.4h0M227.1 200.0h0M228.8 206.7h0M221.5 203.8h0M233.5 214.4h0M234.2 201.3h0M250.4 200.2h0M251.4 212.4h0M224.2 163.9h0M243.0 200.9h0M245.7 193.9h0M245.0 185.9h0M247.3 191.1h0M251.8 148.9h0M223.3 191.6h0M229.0 205.0h0M243.2 213.8h0M229.7 190.8h0M231.6 184.5h0M240.2 211.5h0M232.7 215.0h0M237.8 215.6h0M230.5 201.6h0M221.3 189.7h0M227.2 171.9h0M227.0 183.0h0M234.7 215.2h0M234.7 197.9h0M241.8 209.4h0M229.7 197.2h0M229.7 203.4h0M247.0 182.8h0M227.8 213.6h0M250.4 206.2h0M243.4 211.2h0M251.3 146.0h0M249.5 212.6h0M229.6 197.8h0M223.1 201.9h0M224.8 146.9h0M237.0 215.8h0M231.9 213.2h0M236.0 211.9h0M238.8 215.2h0M227.9 135.9h0M229.8 187.4h0M237.2 215.4h0M243.8 195.2h0M226.3 204.6h0M246.8 191.6h0M229.5 201.4h0M239.0 214.1h0M235.0 208.2h0M242.6 213.3h0M225.4 174.3h0M229.8 154.4h0M247.4 213.4h0M242.6 210.2h0M230.2 205.3h0M245.9 209.5h0M252.7 168.9h0M226.8 211.8h0M227.0 193.1h0M230.8 209.9h0M245.4 204.5h0M240.9 215.1h0M225.0 151.7h0M236.1 208.2h0M222.5 202.7h0M224.2 169.8h0M234.4 202.4h0M221.7 169.8h0M232.1 161.1h0M250.2 212.6h0M241.2 214.9h0M245.1 209.0h0M234.5 213.3h0M242.8 214.3h0M231.7 182.7h0M252.3 176.1h0M250.0 192.4h0M227.0 146.6h0M236.3 215.2h0M235.2 209.5h0M227.0 215.2h0M226.5 183.1h0M231.6 205.0h0M240.3 205.5h0M237.3 215.8h0M243.3 207.1h0M249.5 169.4h0M233.5 202.4h0M221.8 170.9h0M227.4 190.4h0M232.8 200.4h0M222.6 167.2h0M227.0 145.3h0M224.1 174.6h0M227.0 215.8h0M223.8 181.9h0M244.1 173.9h0M231.1 209.0h0M230.6 78.5h0M234.3 204.6h0M236.4 209.9h0M241.2 207.1h0M250.0 188.1h0M224.9 212.6h0M253.6 198.6h0M245.8 179.3h0M227.4 194.2h0M230.4 215.5h0M230.0 177.9h0M246.3 158.2h0M231.6 205.5h0M243.2 191.8h0M221.3 214.4h0M234.9 215.0h0M240.3 210.6h0M230.1 204.8h0M231.7 214.7h0M253.7 210.3h0M233.4 188.5h0M240.1 203.2h0M224.6 215.2h0M223.8 144.8h0M224.1 213.2h0M244.2 189.8h0M253.4 189.8h0M223.1 193.4h0M228.7 166.1h0M225.9 167.9h0M252.6 210.1h0M249.8 207.1h0M248.2 159.3h0M226.9 190.8h0M230.5 198.8h0M224.8 192.0h0M231.3 153.2h0M238.6 215.3h0M230.5 215.4h0M221.7 198.0h0M247.9 163.9h0M227.9 162.0h0M247.9 172.9h0M235.5 211.2h0M247.7 209.7h0M230.2 174.5h0M246.5 157.9h0M238.5 213.8h0M239.6 207.9h0M232.5 188.4h0M251.4 141.3h0M252.6 180.5h0M226.9 169.7h0M226.4 215.8h0M245.9 182.2h0M235.6 215.6h0M239.1 214.8h0M226.8 180.8h0M243.9 214.9h0M233.3 209.7h0M222.5 215.2h0M231.1 214.8h0M251.1 159.0h0M251.3 95.6h0M246.4 174.5h0M225.1 199.1h0M238.1 213.1h0M249.1 198.9h0M223.3 168.8h0M244.3 214.4h0M230.9 198.2h0M234.9 210.8h0M248.9 153.2h0M243.6 207.5h0M253.5 215.2h0M225.3 212.0h0M231.8 204.4h0M246.0 196.4h0M222.1 215.4h0M225.1 157.7h0M221.3 214.2h0M223.0 195.9h0M226.7 144.0h0M241.3 210.1h0M235.2 210.2h0M227.2 182.1h0M239.5 210.7h0M241.9 206.9h0M229.8 183.6h0M249.7 190.5h0M232.3 208.5h0M224.8 185.0h0M232.0 210.4h0M232.8 196.6h0M243.2 210.6h0M240.1 214.0h0M233.4 201.6h0M245.3 167.9h0M230.0 179.8h0M230.3 211.0h0M250.3 46.4h0M238.4 214.7h0M239.8 215.8h0M248.1 150.1h0M239.8 213.1h0M251.2 208.3h0M232.7 201.2h0M226.7 137.3h0M247.1 197.5h0M242.5 199.7h0M233.4 215.0h0M228.4 210.1h0M234.9 213.6h0M238.4 214.5h0M251.6 177.1h0M231.5 208.6h0M227.3 190.1h0M230.7 185.7h0M242.4 191.4h0M234.2 213.4h0M239.8 203.8h0M226.6 202.5h0M231.0 204.9h0M246.8 186.8h0M243.9 186.5h0M229.0 213.5h0M227.0 205.6h0M227.2 180.1h0M248.8 162.2h0M236.8 213.3h0M225.2 185.7h0M226.8 198.5h0M222.7 180.3h0M253.6 62.0h0M226.6 147.6h0M223.5 208.3h0M224.0 198.4h0M228.5 155.2h0M245.1 184.6h0M250.8 210.9h0M226.9 199.0h0M235.5 209.5h0M247.1 72.1h0M227.4 100.2h0M235.4 212.6h0M224.0 211.0h0M230.1 209.9h0M223.7 165.3h0M235.3 204.7h0M222.7 171.7h0M233.8 214.4h0M232.8 196.3h0M225.0 155.1h0M231.6 194.5h0M226.5 165.8h0M232.5 213.0h0M225.3 214.8h0M241.7 194.4h0M247.3 201.3h0M249.7 202.1h0M228.0 175.9h0M228.7 159.6h0M227.7 205.5h0M251.3 212.7h0M236.0 207.3h0M230.6 178.0h0M235.2 202.6h0M226.3 161.3h0M223.1 173.6h0M247.7 211.4h0M250.8 199.8h0M222.0 157.0h0M236.2 213.3h0M221.9 193.1h0M244.4 193.0h0M224.9 178.1h0M252.4 191.7h0M227.4 172.6h0M248.3 175.7h0M226.9 144.9h0M231.7 199.6h0M225.9 139.6h0M249.9 203.8h0M242.2 200.5h0M252.2 204.1h0M222.5 209.2h0M249.1 160.3h0M222.3 213.2h0M229.0 196.1h0M228.2 183.7h0M234.4 214.2h0M252.2 212.7h0M224.5 203.0h0M227.4 182.3h0M233.7 197.4h0M240.4 214.9h0M230.7 212.6h0M234.7 198.6h0M242.3 210.3h0M225.4 147.1h0M226.3 181.9h0M245.4 173.2h0M226.2 141.3h0M221.6 179.5h0M249.7 185.6h0M226.1 208.6h0M245.6 215.4h0M246.7 215.3h0M224.1 210.3h0M228.6 211.5h0M244.8 169.4h0M245.1 188.8h0M246.8 170.5h0M226.6 206.3h0M225.3 137.7h0M241.0 201.7h0M233.2 204.7h0M227.9 206.9h0M235.6 207.0h0M227.6 167.2h0M233.0 185.2h0M223.3 214.6h0M226.0 197.5h0M222.3 180.9h0M251.3 213.6h0M225.7 172.2h0M226.2 205.3h0M228.4 136.3h0M249.2 194.3h0" stroke="#4169e1" stroke-width="1.45" stroke-linecap="round"/>
<path d="M176.5 195.8h0M215.5 195.7h0M202.3 120.1h0M182.8 181.6h0M215.4 198.2h0M299.8 206.4h0M275.1 188.0h0M254.6 180.8h0M290.9 179.2h0M278.9 131.9h0M296.8 171.5h0M276.5 183.0h0M211.8 145.1h0M199.8 215.4h0M263.3 148.4h0M278.8 168.1h0M267.0 146.5h0M219.1 158.2h0M286.2 94.9h0M164.3 192.9h0M270.6 132.9h0M314.9 193.0h0M206.6 147.2h0M191.8 149.2h0M268.9 198.1h0M216.8 197.2h0M256.6 132.6h0M192.3 214.4h0M218.5 162.3h0M306.4 200.9h0M185.5 131.9h0M283.8 197.5h0M317.5 197.1h0M207.7 114.8h0M204.3 205.9h0M265.8 197.2h0M275.6 197.3h0M213.5 136.4h0M188.9 214.2h0M302.2 154.1h0M198.0 158.1h0M275.5 209.0h0M312.3 206.8h0M194.1 186.8h0M198.1 215.0h0M316.2 184.7h0M164.5 193.4h0M213.9 165.0h0M215.4 168.5h0M219.0 156.8h0M255.1 213.7h0M172.9 177.4h0M218.1 130.0h0M205.9 201.0h0M277.7 183.6h0M214.3 142.6h0M271.4 179.3h0M178.3 147.3h0M274.0 133.9h0M303.7 195.2h0M263.3 179.5h0M289.9 208.9h0M260.5 167.3h0M300.7 212.8h0M215.9 181.1h0M259.9 162.1h0M217.9 200.4h0M261.8 115.3h0M283.7 160.2h0M196.4 205.9h0M314.0 201.5h0M178.2 151.7h0M315.1 205.1h0M212.9 64.5h0M175.5 189.7h0M279.6 166.0h0M305.3 161.3h0M321.8 179.7h0M216.5 117.8h0M261.4 179.4h0M276.7 143.6h0M294.6 192.6h0M299.2 213.8h0M203.0 201.3h0M305.5 201.4h0M185.5 166.0h0M165.2 39.6h0M299.3 157.1h0M213.9 175.3h0M307.6 192.7h0M268.0 189.2h0M214.3 184.7h0M165.3 195.9h0M261.8 39.5h0M292.0 181.2h0M269.5 189.7h0M299.9 213.5h0M254.4 159.7h0M218.4 134.7h0M206.8 215.0h0M207.6 214.3h0M284.0 181.0h0M282.6 113.7h0M302.4 194.7h0M294.0 211.5h0M310.1 202.6h0M208.3 185.9h0M290.2 176.7h0M219.6 152.8h0M181.2 174.8h0M215.6 161.1h0M297.3 156.0h0M286.7 139.3h0M277.8 163.3h0M193.4 170.2h0M213.1 194.9h0M216.3 205.2h0M289.9 121.8h0M268.0 82.0h0M183.8 195.1h0M185.6 201.8h0M261.8 150.9h0M194.7 182.1h0M256.5 159.3h0M286.1 207.1h0M213.5 195.9h0M281.1 168.2h0M267.1 183.4h0M313.5 207.0h0M323.5 200.6h0M178.8 205.3h0M313.3 179.5h0M257.6 194.3h0M196.8 147.1h0M262.9 129.6h0M215.7 164.7h0M164.2 80.0h0M190.9 187.8h0M210.6 189.5h0M274.9 139.2h0M215.1 203.7h0M217.3 145.0h0M158.9 200.9h0M271.5 148.3h0M158.9 193.0h0M169.3 207.5h0M257.7 131.1h0M280.4 120.5h0M276.4 167.0h0M279.6 135.0h0M218.8 146.6h0M178.9 198.0h0M269.8 144.3h0M345.4 205.4h0M215.2 133.8h0M186.3 164.0h0M304.3 198.2h0M215.1 141.2h0M256.7 207.4h0M207.4 167.5h0M185.8 183.5h0M216.5 184.7h0M254.6 169.9h0M189.8 193.2h0M202.3 166.9h0M287.0 135.9h0M263.2 187.9h0M292.8 114.7h0M194.3 169.5h0M173.2 201.1h0M335.6 208.2h0M267.2 143.4h0M263.2 183.7h0M279.0 213.4h0M296.9 207.2h0M308.3 207.2h0M158.0 209.9h0M183.6 202.6h0M255.1 181.7h0M283.7 187.9h0M210.4 214.9h0M213.3 154.0h0M312.9 211.4h0M214.2 130.9h0M165.4 179.9h0M280.7 160.6h0M299.0 195.9h0M218.4 200.4h0M272.4 174.3h0M206.9 161.5h0M274.0 151.6h0M269.7 155.4h0M204.7 163.1h0M214.6 144.1h0M196.3 209.0h0M293.8 205.3h0M194.9 207.2h0M193.5 140.6h0M294.8 207.8h0M266.3 188.9h0M189.0 213.9h0M198.4 212.0h0M268.3 192.5h0M215.9 178.8h0M306.3 152.5h0M366.8 202.5h0M210.4 179.1h0M297.7 214.0h0M216.1 143.2h0M258.1 155.7h0M311.0 194.9h0M256.5 163.2h0M273.3 149.0h0M217.9 100.0h0M182.6 154.2h0M179.9 160.5h0M205.5 143.5h0M164.6 202.1h0M323.6 210.2h0M266.1 124.8h0M273.0 166.4h0M260.3 159.8h0M214.7 165.6h0M263.1 158.6h0M202.2 166.9h0M259.3 177.2h0M279.1 184.4h0M169.6 189.6h0M193.4 178.6h0M214.2 195.0h0M199.2 191.9h0M175.6 208.4h0M315.0 215.0h0M264.2 108.7h0M172.5 207.7h0M256.4 165.1h0M256.7 141.4h0M193.6 113.1h0M214.5 201.8h0M268.1 137.6h0M169.4 175.3h0M210.6 189.0h0M199.3 155.6h0M261.4 105.2h0M182.6 200.9h0M305.3 207.9h0M194.3 189.1h0M186.7 193.6h0M199.4 209.7h0M179.1 169.7h0M324.6 201.6h0M213.5 169.3h0M178.7 163.4h0M208.4 122.4h0M258.0 136.4h0M266.5 155.1h0M168.0 198.1h0M258.1 205.9h0M218.2 198.4h0M303.0 176.8h0M262.3 125.4h0M301.4 202.6h0M175.0 151.8h0M214.7 200.6h0M209.0 163.8h0M282.0 163.1h0M192.9 198.5h0M175.0 190.8h0M295.2 188.7h0M269.4 163.5h0M297.1 130.4h0M344.1 207.2h0M182.7 134.8h0M273.7 160.5h0M197.6 150.0h0M197.8 130.7h0M181.5 209.6h0M153.9 200.0h0M263.0 142.6h0M325.1 197.2h0M216.9 196.4h0M199.8 175.1h0M297.8 206.9h0M257.3 189.2h0M139.9 207.8h0M168.1 176.5h0M298.5 123.5h0M255.0 194.4h0M213.2 142.0h0M212.4 183.0h0M147.3 208.8h0M185.8 158.1h0M171.9 201.4h0M270.0 182.7h0M269.5 156.6h0M220.2 180.0h0M301.7 199.5h0M183.9 209.8h0M255.6 109.4h0M327.3 206.1h0M270.4 172.4h0M261.7 135.6h0M208.6 163.1h0M265.6 188.4h0M207.7 140.5h0M203.3 88.5h0M321.3 203.6h0M315.8 211.4h0M185.9 121.6h0M264.5 176.0h0M197.2 39.6h0M183.7 140.1h0M217.9 181.4h0M281.3 173.9h0M178.4 209.0h0M286.0 216.2h0M179.7 209.4h0M260.4 183.4h0M218.2 154.6h0M284.4 179.5h0M191.6 168.0h0M163.0 201.9h0M319.9 203.7h0M207.2 180.8h0M209.0 162.9h0M167.9 187.1h0M302.7 178.0h0M304.6 177.3h0M195.1 168.9h0M165.9 175.2h0M256.0 66.7h0M268.4 152.8h0M215.8 39.3h0M345.6 206.8h0M341.3 207.7h0M217.9 151.8h0M257.2 199.3h0M270.0 206.5h0M220.2 197.4h0M317.8 211.7h0M292.1 187.1h0M265.4 63.5h0M189.3 162.6h0M215.1 202.1h0M170.2 203.2h0M184.8 188.0h0M273.3 150.6h0M149.8 210.6h0M210.9 180.8h0M273.8 39.6h0M207.6 215.5h0M134.2 206.9h0M291.5 39.6h0M209.6 197.8h0M211.9 152.4h0M162.9 197.1h0M277.9 194.7h0M204.3 146.6h0M256.1 181.1h0M212.3 146.0h0M213.0 123.7h0M301.2 194.7h0M159.2 199.2h0M262.7 207.5h0M318.8 210.8h0M197.6 163.3h0M156.1 211.2h0M296.8 63.3h0M298.2 196.1h0M259.3 201.7h0M188.2 146.4h0M201.5 154.7h0M194.9 177.9h0M293.2 198.1h0M262.6 152.6h0M200.8 203.8h0M262.6 111.9h0M263.3 163.2h0M219.4 78.5h0M162.3 200.5h0M260.4 155.6h0M206.7 210.0h0M333.0 208.6h0M270.5 203.9h0M190.0 126.0h0M288.4 164.5h0M319.6 199.4h0M187.4 202.0h0M256.0 200.8h0M267.8 96.7h0M138.9 207.7h0M290.0 194.5h0M278.9 151.4h0M273.7 188.7h0M254.7 154.7h0M316.7 211.2h0M309.3 212.1h0M204.3 183.4h0M255.4 184.9h0M320.9 188.3h0M187.9 178.5h0M300.8 187.4h0M298.1 188.7h0M263.8 97.7h0M254.8 188.1h0M217.5 173.4h0M209.6 164.2h0M219.5 133.3h0M218.0 178.7h0M195.1 205.6h0M269.4 157.7h0M180.6 201.9h0M202.3 159.3h0M203.9 184.9h0M173.3 168.9h0M202.2 133.4h0M283.6 53.4h0M258.4 140.7h0M206.7 190.1h0M278.2 93.5h0M213.9 39.5h0M282.8 175.9h0M312.3 211.8h0M217.7 214.5h0M285.7 155.2h0M215.9 94.1h0M193.0 103.2h0M220.5 216.0h0M265.6 150.8h0M214.7 209.5h0M204.5 166.9h0M271.4 187.4h0M201.6 190.0h0M179.9 184.8h0M281.2 193.3h0M284.5 126.8h0M263.2 196.2h0M220.2 178.2h0M180.0 213.5h0M296.6 184.4h0M196.2 170.6h0M186.9 176.3h0M261.4 143.6h0M314.0 195.1h0M297.1 210.6h0M220.4 205.6h0M275.0 126.1h0M209.5 139.6h0M219.8 163.6h0M260.6 179.9h0M200.5 135.1h0M213.8 176.1h0M295.1 195.0h0M210.1 180.1h0M202.0 196.8h0M281.4 184.9h0M202.3 206.0h0M271.1 191.6h0M188.8 199.7h0M212.8 98.6h0M263.8 209.6h0M265.0 134.3h0M312.2 199.1h0M257.2 175.7h0M292.5 172.1h0M209.8 157.7h0M299.6 160.3h0M259.5 182.8h0M193.6 213.3h0M203.1 163.1h0M255.5 206.5h0M205.1 194.4h0M308.8 158.7h0M287.3 193.3h0M269.8 106.1h0M218.7 192.3h0M159.9 185.7h0M256.1 202.7h0M270.6 192.3h0M274.6 174.4h0M294.9 210.8h0M311.1 199.4h0M272.2 185.4h0M196.7 183.3h0M279.4 213.0h0M136.2 199.0h0M207.4 208.4h0M194.3 180.2h0M273.2 158.1h0M208.1 152.1h0M194.0 214.7h0M269.4 177.7h0M277.5 166.7h0M215.2 147.1h0M301.0 209.3h0M260.3 173.2h0M257.1 164.5h0M268.7 89.1h0M200.2 151.3h0M273.8 212.5h0M184.0 191.1h0M189.9 109.5h0M210.4 210.1h0M280.1 120.9h0M212.5 162.9h0M155.7 205.1h0M217.0 197.1h0M198.5 176.6h0M286.0 99.8h0M199.2 168.0h0M217.7 190.3h0M172.0 199.7h0M216.4 161.0h0M207.6 131.1h0M193.3 208.6h0M199.9 147.9h0M199.7 182.5h0M213.8 152.2h0M204.4 170.8h0M180.4 212.7h0M310.0 199.7h0M218.9 211.4h0M184.7 206.4h0M307.2 207.7h0M315.9 200.6h0M215.9 162.2h0M280.9 137.7h0M272.8 130.1h0M284.3 191.9h0M190.1 131.3h0M289.0 125.6h0M263.4 87.6h0M192.3 205.0h0M218.8 149.0h0M273.4 161.4h0M216.9 195.2h0M198.9 143.8h0M165.5 210.9h0M301.4 143.5h0M209.0 120.0h0M219.0 72.4h0M277.5 194.3h0M310.4 175.6h0M156.1 209.6h0M317.3 204.5h0M196.2 198.5h0M197.9 167.1h0M282.5 184.5h0M174.6 184.2h0M283.4 175.3h0M255.8 39.2h0M159.1 211.4h0M219.0 193.3h0M194.7 149.9h0M313.6 184.1h0M213.6 173.1h0M187.8 143.9h0M262.8 153.4h0M256.5 116.2h0M167.0 181.8h0M308.9 212.2h0M211.0 144.8h0M258.1 197.5h0M277.0 184.7h0M298.1 209.9h0M295.4 156.3h0M212.1 125.4h0M316.1 181.8h0M284.1 171.4h0M207.1 158.6h0M200.5 186.3h0M166.9 184.6h0M216.7 205.5h0M178.9 142.4h0M273.2 198.0h0M267.1 138.2h0M295.4 147.0h0M219.9 176.8h0M296.4 180.6h0M291.7 126.4h0M196.4 216.1h0M183.2 195.7h0M271.5 117.8h0M257.8 186.6h0M306.9 193.1h0M205.0 127.0h0M192.7 138.5h0M274.0 183.5h0M207.1 144.2h0M315.1 175.7h0M212.0 123.9h0M179.7 214.3h0M316.8 209.9h0M209.4 103.6h0M212.7 193.2h0M280.9 164.9h0M311.1 185.1h0M206.2 190.6h0M195.8 204.0h0M262.4 211.8h0M193.7 163.3h0M210.2 126.2h0M194.4 215.1h0M283.4 190.1h0M168.1 211.2h0M255.9 164.8h0M262.1 169.9h0M279.5 134.5h0M258.7 182.4h0M194.3 122.3h0M307.4 200.9h0M201.2 212.5h0M192.1 188.2h0M277.7 169.6h0M280.3 205.1h0M184.8 170.5h0M266.6 162.6h0M218.0 186.6h0M214.5 170.0h0M181.0 181.1h0M211.6 144.7h0M259.6 161.4h0M197.9 211.0h0M210.5 121.1h0M260.8 192.4h0M274.3 163.6h0M308.9 203.2h0M217.6 39.3h0M272.0 153.6h0M297.7 201.3h0M176.0 204.5h0M136.9 207.1h0M258.9 190.6h0M220.5 180.1h0M289.1 199.6h0M283.8 185.2h0M292.9 177.0h0M282.8 138.6h0M274.8 169.6h0M266.0 179.3h0M310.9 202.5h0M217.8 126.9h0M269.6 175.8h0M202.8 39.2h0M210.4 199.6h0M259.0 200.9h0M198.5 160.9h0M181.1 177.1h0M259.1 124.4h0M180.4 186.2h0M264.2 150.4h0M166.4 197.1h0M300.8 191.4h0M294.9 191.2h0M203.1 162.8h0M292.4 133.0h0M202.0 157.3h0M209.2 177.0h0M197.4 105.2h0M216.7 188.0h0M271.6 174.1h0M267.2 165.9h0M279.5 124.0h0M218.9 180.9h0M214.3 122.9h0M302.6 207.6h0M311.9 205.6h0M210.2 97.1h0M315.6 202.1h0M178.2 171.8h0M274.1 206.1h0M183.5 186.8h0M317.9 199.9h0M209.7 193.7h0M206.1 185.5h0M171.0 211.7h0M269.4 177.0h0M212.3 201.9h0M286.6 214.0h0M173.3 185.0h0M305.3 169.6h0M205.1 191.7h0M310.2 163.9h0M208.8 172.0h0M196.0 157.7h0M275.0 201.1h0M333.5 208.7h0M214.4 129.4h0M287.8 189.7h0M319.3 204.2h0M260.5 146.9h0M299.2 142.4h0M271.4 126.8h0M196.2 143.6h0M290.4 184.6h0M306.3 212.7h0M310.1 206.7h0M205.9 198.2h0M163.4 193.4h0M198.9 135.5h0M275.5 158.4h0M266.8 207.5h0M131.7 206.3h0M153.1 199.7h0M192.8 211.3h0M200.8 90.6h0M261.8 160.6h0M199.3 155.2h0M285.3 158.1h0M258.8 201.8h0M258.9 150.3h0M220.0 180.6h0M192.6 166.1h0M218.6 133.6h0M204.1 191.0h0M141.7 208.0h0M195.0 214.6h0M311.8 205.9h0M195.5 200.9h0M218.8 158.1h0M300.7 179.2h0M167.3 177.6h0M304.2 156.4h0M157.4 196.4h0M257.7 198.1h0M211.9 193.3h0M214.8 198.9h0M202.7 206.2h0M316.6 171.5h0M303.6 172.3h0M262.0 157.4h0M308.5 192.5h0M257.2 207.9h0M338.3 208.2h0M164.3 182.1h0M179.4 213.0h0M298.4 125.1h0M214.8 162.1h0M208.8 141.2h0M273.1 155.2h0M297.6 156.4h0M212.5 76.0h0M278.7 147.3h0M173.9 211.9h0M164.0 186.2h0M201.1 135.7h0M304.2 208.3h0M213.8 196.2h0M294.9 214.3h0M276.6 170.2h0M288.0 99.9h0M318.6 199.6h0M206.8 191.8h0M214.0 183.0h0M202.3 156.6h0M262.8 168.7h0M190.7 207.9h0M276.3 192.2h0M267.4 178.7h0M265.0 181.3h0M213.1 178.8h0M255.1 198.3h0M160.7 210.2h0M261.7 171.7h0M201.4 193.0h0M217.9 201.8h0M288.5 175.8h0M269.8 140.4h0M209.4 195.4h0M283.2 200.3h0M280.7 113.8h0M263.2 85.7h0M258.7 186.3h0M179.1 148.7h0M143.7 208.1h0M259.1 150.7h0M310.0 196.2h0M146.8 210.2h0M182.9 213.6h0M267.0 201.7h0M265.0 167.9h0M220.1 121.9h0M212.3 127.2h0M216.9 134.2h0M188.0 214.1h0M209.3 165.9h0M298.2 196.2h0M177.3 163.7h0M188.8 157.4h0M272.3 115.5h0M269.4 173.8h0M273.7 172.7h0M278.0 187.8h0M297.1 174.7h0M256.6 191.6h0M256.4 208.3h0M146.8 208.4h0M263.8 143.6h0M276.1 152.8h0M310.8 156.9h0M195.7 211.8h0M276.6 144.2h0M303.9 212.8h0M185.4 153.0h0M279.4 123.2h0M277.8 189.3h0M269.0 199.8h0M179.8 148.4h0M205.5 149.7h0M294.9 180.2h0M257.2 151.5h0M290.7 180.2h0M273.3 191.7h0M314.3 205.4h0M260.9 203.8h0M176.3 186.8h0M272.7 170.8h0M216.1 117.4h0M316.1 202.3h0M217.1 143.5h0M323.4 203.0h0M202.4 201.2h0M199.5 146.1h0M167.9 212.4h0M270.0 130.7h0M289.9 174.8h0M219.1 115.3h0M203.1 199.6h0M220.0 179.4h0M288.0 172.5h0M216.2 183.5h0M291.8 213.7h0M169.3 174.7h0M199.1 39.6h0M276.2 154.7h0M193.8 104.9h0M271.8 87.6h0M294.3 174.5h0M284.1 119.7h0M199.5 166.7h0M168.6 211.1h0M194.0 133.2h0M165.5 199.1h0M288.0 184.6h0M274.8 169.3h0M213.6 156.2h0M261.0 180.2h0M255.5 155.8h0M213.1 141.9h0M263.3 117.1h0M142.8 208.0h0M257.6 125.6h0M161.5 201.5h0M255.8 119.5h0M311.2 211.7h0M203.0 195.5h0M291.6 196.0h0M332.3 167.9h0M199.6 198.3h0M272.2 184.0h0M219.7 102.2h0M264.0 187.5h0M279.4 168.4h0M301.2 213.1h0M167.2 207.0h0M185.6 156.7h0M290.6 139.3h0M294.3 120.7h0M218.9 165.7h0M263.3 139.3h0M277.1 208.3h0M203.9 185.4h0M313.8 208.1h0M166.0 172.7h0M202.8 128.3h0M130.7 206.4h0M183.7 157.4h0M294.2 198.2h0M259.8 39.5h0M217.5 140.4h0M291.0 109.3h0M272.6 190.4h0M218.0 93.4h0M184.8 152.0h0M256.3 153.9h0M283.6 124.2h0M274.2 194.0h0M198.5 212.3h0M319.2 206.2h0M196.8 152.1h0M219.1 156.6h0M220.6 179.4h0M300.9 206.1h0M265.4 153.8h0M197.3 170.9h0M187.8 207.2h0M161.5 210.7h0M275.0 134.4h0M255.7 192.3h0M265.3 175.6h0M266.9 152.0h0M165.0 179.9h0M146.9 204.0h0M214.1 135.2h0M184.4 143.7h0M156.7 186.4h0M284.1 145.9h0M194.8 181.3h0M159.7 188.6h0M283.2 180.8h0M194.1 124.9h0M211.2 182.0h0M183.6 151.1h0M191.0 202.0h0M188.3 199.1h0M281.2 176.0h0M200.4 213.4h0M199.8 138.5h0M206.8 153.2h0M182.3 153.1h0M207.9 185.3h0M178.1 161.8h0M184.8 155.0h0M292.3 185.7h0M208.1 170.3h0M294.5 199.5h0M285.8 166.3h0M321.7 210.4h0M168.6 180.7h0M273.5 202.5h0M207.8 147.3h0M218.7 175.3h0M204.3 214.0h0M293.3 214.6h0M186.6 155.1h0M217.9 93.4h0M274.1 177.5h0M296.5 163.0h0M208.6 175.3h0M205.2 210.9h0M177.2 146.3h0M213.2 185.8h0M262.7 163.9h0M268.4 135.7h0M200.8 212.0h0M210.2 39.5h0M216.5 174.6h0M295.8 212.4h0M285.2 180.1h0M298.5 153.8h0M219.9 145.2h0M202.4 121.6h0M196.7 158.7h0M273.5 123.0h0M313.0 185.6h0M204.2 169.4h0M169.0 173.9h0M295.1 168.5h0M275.6 152.5h0M307.6 197.5h0M169.8 203.9h0M177.1 177.5h0M153.0 209.3h0M156.0 209.9h0M264.0 152.3h0M255.4 169.8h0M168.8 211.4h0M135.3 199.1h0M342.4 207.1h0M263.4 169.8h0M322.9 197.5h0M254.4 194.3h0M322.1 195.6h0M318.9 210.5h0M218.5 189.9h0M207.6 101.1h0M289.5 208.1h0M337.0 208.1h0M303.2 208.5h0M138.0 207.2h0M219.2 173.2h0M256.7 181.8h0M303.3 202.2h0M292.9 185.9h0M334.4 208.5h0M215.4 198.3h0M340.4 207.6h0M269.4 198.4h0M258.9 86.4h0M205.2 105.7h0M189.7 214.3h0M275.4 174.3h0M295.3 197.4h0M214.4 142.6h0M282.2 184.3h0M265.0 161.4h0M257.4 184.2h0M312.8 171.7h0M315.5 177.1h0M219.1 190.1h0M259.0 202.5h0M164.6 186.2h0M295.6 200.4h0M298.4 208.8h0M271.8 191.0h0M289.2 168.5h0M278.5 201.0h0M111.4 202.6h0M189.8 161.7h0M200.0 215.4h0M310.8 194.8h0M291.4 135.0h0M217.4 195.9h0M289.5 214.8h0M183.4 151.7h0M259.0 162.3h0M150.3 211.1h0M292.5 178.2h0M289.6 184.3h0M299.7 200.4h0M310.9 188.2h0M202.8 189.6h0M203.2 167.7h0M191.2 200.1h0M326.9 209.8h0M198.7 144.1h0M259.5 132.8h0M285.1 158.1h0M268.8 197.7h0M298.4 171.3h0M292.0 179.5h0M209.8 137.6h0M164.4 190.5h0M191.9 141.7h0M218.6 159.7h0M278.4 187.4h0M180.5 181.9h0M285.8 162.4h0M346.6 206.6h0M325.7 209.6h0M265.6 166.4h0M163.1 202.9h0M273.5 175.8h0M204.8 157.7h0M166.2 210.9h0M271.1 182.4h0M280.6 199.7h0M200.9 39.5h0M207.3 163.5h0M208.8 149.6h0M280.5 181.8h0M211.5 190.7h0M196.1 152.7h0M305.1 66.7h0M200.1 154.4h0M110.0 202.7h0M292.9 202.5h0M298.6 200.7h0M197.4 191.2h0M263.4 158.5h0M295.9 201.6h0M275.0 115.5h0M255.6 202.2h0M296.4 149.5h0M203.2 171.7h0M329.5 209.3h0M263.5 147.7h0M191.5 188.6h0M220.3 157.2h0M276.9 159.3h0M175.7 171.8h0M294.0 163.1h0M212.3 162.3h0M220.5 120.1h0M339.6 207.9h0M155.8 214.2h0M290.4 171.3h0M265.8 39.5h0M295.6 212.3h0M189.6 165.0h0M219.1 172.3h0M217.5 124.8h0M308.2 215.3h0M267.5 161.1h0M180.3 157.3h0M198.3 189.7h0M287.3 174.5h0M207.0 191.2h0M276.4 160.3h0M197.1 141.3h0M266.0 164.4h0M293.9 213.1h0M208.2 88.7h0M183.8 132.0h0M259.0 130.0h0M196.5 159.7h0M271.4 194.2h0M330.1 209.2h0M283.7 182.9h0M314.2 175.9h0M291.1 212.3h0M324.3 202.5h0M196.9 194.0h0M196.3 167.2h0M218.7 200.3h0M271.1 119.4h0M174.2 212.6h0M210.6 123.9h0M295.8 207.8h0M309.3 172.7h0M282.3 166.5h0M211.9 195.3h0M174.1 91.0h0M269.6 129.4h0M282.0 172.0h0M189.2 156.7h0M196.3 147.4h0M197.9 165.5h0M204.8 158.2h0M304.4 214.3h0M257.5 165.2h0M171.9 212.1h0M259.4 56.6h0M267.3 159.9h0M191.3 192.4h0M264.3 206.9h0M273.9 182.6h0M205.6 192.6h0M180.4 161.3h0M269.3 159.6h0M198.3 185.4h0M265.7 186.4h0M270.0 192.5h0M202.2 116.5h0M199.3 209.1h0M182.0 206.0h0M280.2 169.8h0M211.6 161.0h0M181.5 174.8h0M176.3 162.0h0M202.8 164.9h0M201.0 166.2h0M308.5 155.1h0M219.5 104.3h0M205.2 195.1h0M257.9 189.3h0M256.7 140.3h0M215.4 140.2h0M184.4 198.6h0M270.5 124.7h0M191.1 172.0h0M169.8 211.7h0M296.3 201.5h0M270.1 148.3h0M217.8 133.5h0M258.2 160.1h0M191.1 196.0h0M219.4 187.7h0M182.2 213.4h0M203.8 135.8h0M281.7 193.3h0M306.1 193.3h0M257.6 132.4h0M264.4 152.0h0M272.0 167.3h0M305.3 140.5h0M299.1 209.7h0M362.6 202.5h0M180.1 199.9h0M158.5 205.5h0M219.4 205.5h0M278.7 198.8h0M195.6 174.9h0M199.1 170.9h0M306.9 177.3h0M203.4 207.7h0M264.8 185.9h0M170.8 212.5h0M217.3 132.0h0M217.9 99.7h0M306.3 176.9h0M177.7 207.2h0M280.1 111.5h0M212.7 71.8h0M291.9 131.7h0M186.9 160.0h0M303.3 198.9h0M159.7 210.4h0M271.0 204.9h0M294.1 175.6h0M283.6 144.3h0M264.8 109.0h0M257.8 147.5h0M302.0 205.4h0M257.2 196.7h0M206.8 208.7h0M312.9 195.2h0M203.8 170.1h0M295.0 190.8h0M216.4 190.6h0M194.8 164.4h0M254.9 156.1h0M204.0 208.1h0M212.2 153.9h0M174.7 212.3h0M181.3 167.2h0M186.9 213.9h0M216.3 133.0h0M257.4 198.8h0M315.8 194.4h0M162.0 211.9h0M265.7 142.0h0M203.1 193.1h0M263.3 134.3h0M267.4 142.6h0M289.8 199.1h0M199.5 141.7h0M271.9 186.0h0M272.4 149.7h0M318.1 204.4h0M258.9 198.3h0M260.6 175.5h0M154.0 209.5h0M176.9 213.1h0M182.1 131.4h0M294.9 201.8h0M205.1 126.2h0M281.0 161.7h0M167.8 174.6h0M303.7 213.1h0M332.0 208.9h0M189.6 203.9h0M192.4 187.2h0M195.3 172.5h0M293.4 182.4h0M198.4 165.1h0M281.6 194.1h0M265.1 114.2h0M258.7 207.4h0M263.5 150.1h0M201.9 203.8h0M203.4 90.8h0M309.3 191.9h0M299.4 184.5h0M305.2 212.9h0M205.9 171.8h0M200.8 192.2h0M219.3 190.2h0M215.0 195.6h0M283.6 199.2h0M166.0 189.9h0M263.1 164.3h0M153.6 202.3h0M268.2 149.1h0M181.8 128.5h0M295.9 204.6h0M257.1 199.8h0M182.9 185.2h0M295.5 181.8h0M254.8 190.9h0M317.2 210.9h0M287.1 197.7h0M282.7 165.7h0M278.6 192.1h0M300.8 183.2h0M216.4 166.0h0M254.8 195.7h0M193.5 212.9h0M288.5 161.4h0M255.6 176.7h0M310.5 212.1h0M265.5 171.4h0M201.4 144.6h0M272.0 103.2h0M262.9 186.9h0M219.0 152.5h0M192.6 202.2h0M153.1 211.1h0M152.1 209.3h0M258.5 213.7h0M302.2 208.9h0M197.3 130.4h0M208.8 203.7h0M162.9 199.5h0M184.4 170.8h0M170.1 172.2h0M274.8 202.2h0M280.4 215.7h0M200.4 149.0h0M174.0 173.4h0M203.1 93.9h0M215.1 175.6h0M274.4 159.7h0M258.5 197.3h0M145.7 208.5h0M218.8 185.2h0M274.7 123.5h0M290.8 166.1h0M281.7 177.6h0M260.8 181.7h0M216.8 156.9h0M189.4 167.3h0M187.2 215.7h0M191.7 170.4h0M217.7 185.3h0M183.9 132.9h0M208.2 122.4h0M205.8 182.4h0M259.3 196.7h0M285.4 162.0h0M204.4 161.3h0M193.8 167.3h0M206.1 161.9h0M186.1 159.9h0M305.2 198.1h0M298.2 213.6h0M197.5 177.4h0M156.5 202.3h0M218.7 177.6h0M206.8 178.0h0M217.3 168.6h0M298.7 161.4h0M184.0 184.3h0M209.0 107.3h0M281.7 163.5h0M273.5 147.3h0M271.1 166.4h0M295.6 214.0h0M311.1 196.0h0M259.2 178.1h0M277.7 194.2h0M292.1 208.9h0M190.6 214.3h0M140.8 207.9h0M212.9 184.2h0M256.5 99.2h0M164.6 210.9h0M201.0 155.6h0M273.5 194.2h0M307.6 163.7h0M166.2 197.2h0M275.2 152.0h0M283.9 212.6h0M204.2 212.8h0M196.9 215.0h0M289.5 171.7h0M194.3 216.2h0M190.5 208.9h0M259.0 137.5h0M183.1 155.2h0M294.0 160.4h0M208.6 171.0h0M261.7 208.6h0M195.6 200.0h0M273.9 172.1h0M279.3 112.8h0M258.2 83.8h0M207.1 192.7h0M298.7 203.5h0M175.6 212.3h0M183.5 175.9h0M297.9 200.9h0M270.7 212.5h0M265.4 197.0h0M199.9 212.8h0M266.9 205.4h0M263.8 199.8h0M212.4 192.0h0M169.9 207.7h0M264.8 153.1h0M290.0 170.7h0M193.2 186.5h0M254.6 204.1h0M266.4 202.2h0M261.4 198.7h0M277.7 175.4h0M264.1 170.1h0M305.7 204.0h0M168.0 211.5h0M280.7 214.4h0M220.3 153.9h0M209.9 139.2h0M295.6 195.9h0M338.3 181.6h0M281.8 198.1h0M209.1 142.3h0M202.1 210.4h0M181.1 154.9h0M276.5 198.5h0M303.1 194.3h0M213.7 150.9h0M199.9 182.7h0M174.2 159.1h0M284.1 194.2h0M182.2 133.0h0M257.0 143.8h0M304.8 199.8h0M135.3 207.1h0M180.6 186.6h0M209.6 145.8h0M197.7 178.9h0M164.9 211.9h0M258.9 133.8h0M205.0 197.1h0M264.0 132.3h0M152.7 191.7h0M212.6 177.1h0M294.2 214.2h0M193.8 187.4h0M263.9 107.5h0M197.1 162.8h0M215.0 189.8h0M208.9 199.4h0M191.1 157.0h0M220.5 77.0h0M216.7 178.5h0M274.4 182.2h0M182.1 168.0h0M290.2 212.7h0M274.0 182.7h0M212.4 173.3h0M164.4 206.3h0M287.4 170.2h0M148.3 208.6h0M363.6 203.7h0M216.6 184.9h0M274.0 191.3h0M212.5 140.3h0M291.7 167.4h0M157.1 210.1h0M344.9 207.1h0M188.9 152.5h0M278.0 146.4h0M162.0 199.5h0M174.6 200.5h0M262.6 201.8h0M201.8 134.5h0M209.6 180.1h0M220.3 99.7h0M177.9 151.0h0M269.4 161.3h0M170.9 156.1h0M185.4 198.8h0M181.8 157.3h0M272.1 165.2h0M175.3 154.6h0M192.9 188.4h0M173.4 204.0h0M267.4 84.6h0M317.0 197.8h0M309.5 196.6h0M273.3 208.8h0M265.2 172.5h0M288.8 130.2h0M282.9 136.9h0M288.0 184.6h0M185.8 213.6h0M268.1 201.3h0M185.0 182.5h0M258.9 98.0h0M302.5 166.2h0M257.3 110.0h0M314.1 198.4h0M202.0 178.0h0M271.7 204.6h0M186.4 203.5h0M153.5 188.7h0M202.3 204.3h0M204.6 209.6h0M280.7 164.2h0M267.2 177.1h0M201.3 150.3h0M262.9 146.8h0M276.8 202.3h0M205.9 154.1h0M263.4 155.4h0M164.6 190.7h0M275.7 162.7h0M273.0 172.7h0M207.3 210.4h0M218.4 215.0h0M193.7 108.0h0M211.1 189.3h0M189.0 162.9h0M170.1 205.9h0M197.8 183.8h0M213.2 93.2h0M176.7 154.5h0M262.4 129.1h0M200.7 128.1h0M265.1 176.0h0M217.6 123.2h0M324.2 210.0h0M217.5 196.6h0M277.8 39.4h0M288.8 179.2h0M206.7 199.6h0M256.1 197.5h0M255.6 45.0h0M280.2 140.4h0M318.7 209.3h0M187.6 186.3h0M201.2 184.4h0M257.1 182.3h0M300.3 165.3h0M319.4 211.6h0M328.6 209.5h0M197.2 148.7h0M304.6 201.9h0M183.6 201.2h0M207.0 173.2h0M294.2 197.5h0M300.7 199.7h0M291.8 203.1h0M177.4 212.8h0M189.7 213.2h0M287.9 215.2h0M201.7 196.5h0M198.3 164.9h0M292.4 206.0h0M285.1 105.0h0M269.7 166.8h0M285.6 188.9h0M192.2 196.1h0M176.6 202.3h0M261.5 184.6h0M266.5 178.3h0M266.3 177.0h0M315.0 177.6h0M296.0 197.0h0M336.4 208.4h0M299.4 203.4h0M204.6 39.5h0M196.7 100.8h0M213.3 205.7h0M300.7 201.1h0M181.7 139.4h0M313.3 206.2h0M269.5 181.6h0M161.9 203.9h0M280.7 180.5h0M212.3 84.5h0M170.1 165.2h0M195.7 182.5h0M314.9 198.1h0M263.5 157.9h0M297.3 196.6h0M302.6 202.2h0M197.1 190.5h0M182.0 149.4h0M195.5 164.8h0M167.2 179.3h0M212.3 136.5h0M274.3 166.3h0M257.8 171.2h0M193.1 148.9h0M217.5 161.4h0M302.0 213.0h0M201.4 103.4h0M211.3 109.9h0M213.5 93.7h0M220.2 184.0h0M195.2 145.7h0M308.1 203.6h0M261.1 201.4h0M200.7 210.9h0M214.7 197.6h0M202.9 166.7h0M265.1 106.7h0M155.7 200.2h0M275.9 209.3h0M268.8 120.4h0M304.2 200.0h0M154.7 204.3h0M261.6 191.2h0M182.5 187.3h0M258.3 163.2h0M322.3 198.8h0M220.2 166.5h0M299.6 168.4h0M206.7 171.2h0M218.1 148.2h0M292.4 214.4h0M209.5 86.3h0M290.2 50.5h0M276.1 126.8h0M260.1 86.1h0M263.4 213.7h0M155.2 209.5h0M295.2 211.3h0M161.9 215.0h0M211.6 158.4h0M206.0 183.1h0M183.2 213.5h0M201.2 198.1h0M195.4 183.2h0M199.2 215.5h0M269.8 39.4h0M187.1 175.6h0M273.0 155.7h0M202.1 184.9h0M306.6 197.8h0M197.2 197.3h0M302.9 179.4h0M285.7 135.1h0M255.6 188.7h0M307.0 212.7h0M212.0 166.2h0M191.8 192.2h0M209.5 130.6h0M312.2 195.8h0M255.4 145.7h0M257.0 197.4h0M184.8 169.6h0M201.1 159.6h0M258.0 174.9h0M185.0 161.7h0M158.9 214.7h0M185.4 122.2h0M188.1 164.2h0M177.7 200.9h0M297.2 158.3h0M275.8 39.5h0M210.4 193.7h0M211.0 125.2h0M305.4 193.4h0M217.1 136.5h0M160.0 196.4h0M188.1 201.0h0M297.4 153.3h0M294.0 208.3h0M160.7 188.6h0M207.5 183.2h0M287.8 121.4h0M262.9 214.9h0M278.1 209.0h0M268.0 149.0h0M255.8 214.4h0M274.0 195.3h0M260.6 116.4h0M211.3 138.6h0M298.5 199.5h0M181.1 213.1h0M198.2 206.5h0M271.9 140.0h0M283.8 124.8h0M281.9 185.2h0M186.2 213.7h0M197.7 174.5h0M321.4 206.6h0M313.8 181.4h0M189.9 152.5h0M220.2 179.3h0M208.2 198.0h0M278.4 165.4h0M179.3 135.2h0M284.1 99.0h0M202.3 155.2h0M255.7 202.1h0M202.2 206.2h0M192.9 198.7h0M307.7 212.1h0M209.1 191.6h0M217.2 60.2h0M206.5 205.5h0M151.3 208.9h0M266.2 156.0h0M293.2 188.4h0M177.2 169.6h0M265.8 152.2h0M210.2 197.1h0M217.9 193.5h0M267.7 136.8h0M300.1 209.6h0M190.7 128.1h0M172.3 195.4h0M199.6 161.8h0M309.2 206.8h0M305.1 163.7h0M263.1 208.8h0M219.9 104.8h0M172.5 209.9h0M202.9 197.7h0M220.4 196.1h0M202.8 166.3h0M203.4 178.4h0M192.3 209.3h0M267.5 128.9h0M219.0 181.2h0M293.9 202.3h0M290.6 200.9h0M219.7 147.0h0M204.9 193.8h0M196.9 199.9h0M262.5 192.0h0M289.3 173.3h0M299.8 192.5h0M262.8 137.2h0M207.0 178.8h0M301.5 169.9h0M206.8 172.8h0M191.4 185.9h0M303.5 197.2h0M314.5 211.2h0M188.6 210.0h0M256.8 98.9h0M158.9 203.1h0M260.7 196.7h0M180.0 168.9h0M220.6 171.5h0M197.7 198.3h0M343.1 207.4h0M193.3 214.5h0M270.1 201.2h0M188.4 182.6h0M256.8 169.5h0M167.4 202.9h0M144.2 209.9h0M256.8 159.9h0M268.2 162.4h0M219.5 39.3h0M200.5 182.3h0M181.7 164.1h0M188.2 187.4h0M279.3 198.9h0M140.8 210.0h0M214.8 139.9h0M209.7 164.9h0M213.1 187.0h0M213.2 152.6h0M274.4 155.5h0M208.3 106.7h0M256.0 194.2h0M203.0 169.7h0M212.7 158.4h0M214.9 163.8h0M203.3 210.9h0M191.6 199.6h0M302.7 153.9h0M308.6 153.9h0M289.4 143.9h0M196.1 143.8h0M182.8 176.4h0M207.3 128.6h0M212.2 154.8h0M267.9 214.4h0M215.7 132.8h0M311.1 205.4h0M281.5 190.6h0M215.5 193.8h0M184.6 169.5h0M282.6 185.2h0M197.6 206.8h0M213.6 179.0h0M173.8 177.9h0M307.9 176.3h0M267.0 172.4h0M254.7 215.0h0M290.6 167.2h0M263.6 197.7h0M172.6 173.8h0M255.1 155.7h0M187.4 187.0h0M207.0 213.7h0M300.2 157.0h0M262.5 164.7h0M185.9 148.6h0M206.6 116.4h0M216.9 192.2h0M267.8 168.8h0M174.1 189.7h0M298.1 192.8h0M254.4 166.9h0M206.2 127.9h0M300.1 195.4h0M220.6 173.4h0M291.8 212.1h0M152.8 204.9h0M133.5 206.6h0M189.3 151.5h0M166.6 172.2h0M283.2 178.2h0M207.4 187.5h0M191.9 156.9h0M295.6 171.4h0M190.8 127.2h0M196.4 175.5h0M331.3 209.1h0M198.7 176.8h0M313.7 211.6h0M276.9 192.4h0M213.2 175.6h0M273.7 183.2h0M150.0 204.4h0M309.4 165.2h0M255.2 137.4h0M308.4 158.8h0M279.1 159.6h0M258.8 180.1h0M203.2 205.8h0M204.2 215.7h0M261.5 181.1h0M254.7 145.3h0M290.7 190.6h0M203.2 189.9h0M216.1 134.1h0M206.1 167.2h0M303.7 205.1h0M219.6 153.8h0M279.8 169.1h0M264.5 175.3h0M209.9 176.5h0M292.8 165.2h0M196.3 215.1h0M295.1 180.6h0M279.0 87.4h0M178.3 182.2h0M203.6 176.5h0M177.1 173.5h0M333.8 110.0h0M144.8 208.2h0M218.6 212.6h0M268.6 162.3h0M293.1 159.5h0M201.5 160.3h0M262.5 215.4h0M314.8 194.6h0M258.5 190.6h0M188.7 193.7h0M279.0 160.0h0M255.4 197.5h0M208.1 205.1h0M189.7 165.2h0M325.1 209.8h0M299.0 142.3h0M176.2 185.9h0M220.3 108.1h0M291.8 192.3h0M266.4 188.1h0M179.4 207.4h0M185.9 185.8h0M258.8 64.5h0M275.2 109.8h0M279.5 177.3h0M218.3 212.3h0M297.9 183.8h0M308.1 200.7h0M176.5 205.6h0M291.6 139.8h0M216.8 128.5h0M207.0 181.5h0M214.4 198.3h0M199.8 160.3h0M216.6 164.4h0M312.1 202.1h0M184.2 213.7h0M310.4 191.6h0M215.7 121.8h0M186.1 163.1h0M191.4 205.1h0M157.5 212.1h0M302.8 136.2h0M273.0 142.9h0M183.2 173.6h0M272.8 164.2h0M174.5 193.5h0M180.2 178.4h0M218.7 182.8h0M260.0 183.3h0M199.8 126.4h0M287.6 140.7h0M204.8 180.3h0M279.6 169.4h0M287.9 144.9h0M213.3 195.2h0M199.3 151.8h0M208.4 39.3h0M273.1 175.5h0M302.8 212.9h0M208.3 166.3h0M268.2 211.3h0M256.2 155.1h0M177.1 205.6h0M327.8 209.6h0M257.4 158.2h0M349.0 205.2h0M198.8 179.0h0M176.1 205.3h0M282.6 184.8h0M204.5 201.6h0M132.5 206.7h0M179.2 197.2h0M192.8 187.8h0M304.9 204.6h0M182.4 141.0h0M263.4 213.8h0M220.4 191.5h0M289.0 189.2h0M313.0 198.7h0M184.9 39.6h0M211.2 162.1h0M269.2 165.4h0M298.4 185.6h0M316.9 205.5h0M198.7 193.8h0M208.7 187.3h0M321.6 198.6h0M172.8 197.2h0M272.1 174.0h0M218.1 133.9h0M208.1 211.6h0M275.3 96.6h0M264.9 161.1h0M190.5 160.5h0M278.3 185.1h0M208.9 160.1h0M280.2 161.9h0M259.3 196.4h0M291.4 214.6h0M302.1 160.4h0M299.1 145.9h0M278.0 150.1h0M263.5 153.0h0M207.5 118.8h0M262.2 205.7h0M316.4 205.1h0M260.4 175.4h0M193.1 181.4h0M362.7 202.0h0M265.0 167.5h0M163.6 210.6h0M255.3 184.5h0M275.0 159.6h0M322.7 210.5h0M216.6 189.7h0M292.3 198.2h0M192.9 211.5h0M199.7 150.7h0M195.4 39.2h0M205.0 206.1h0M347.7 206.4h0M190.3 184.1h0M211.5 120.0h0M254.9 169.5h0M211.7 207.1h0M293.0 211.6h0M217.6 125.2h0M185.4 201.2h0M265.0 131.6h0M273.7 130.0h0M304.0 194.1h0M268.7 204.4h0M179.2 192.8h0M184.9 162.0h0M184.6 153.8h0M219.3 146.8h0M158.7 197.6h0M176.8 212.7h0M263.2 79.5h0M197.3 194.5h0M195.7 160.8h0M259.5 167.5h0M216.5 152.1h0M312.0 206.0h0M277.0 139.9h0M312.7 202.0h0M280.2 155.8h0M215.5 187.6h0M202.6 191.8h0M273.0 170.0h0M284.7 201.2h0M204.2 115.7h0M190.4 209.7h0M200.4 213.3h0M211.8 65.5h0M177.8 194.9h0M206.4 178.9h0M186.9 210.1h0M264.2 188.8h0M183.9 158.3h0M218.9 121.7h0M264.1 123.9h0M273.7 178.4h0M319.9 180.6h0M216.0 139.3h0M298.8 206.7h0M283.8 167.0h0M279.1 187.5h0M214.9 107.0h0M162.6 210.6h0M290.6 214.8h0M183.7 173.5h0M212.8 191.6h0M209.8 209.5h0M263.0 179.9h0M293.5 162.5h0M282.3 158.1h0M199.7 198.2h0M258.8 139.0h0M270.1 171.9h0M270.5 171.0h0M218.7 196.0h0M289.5 155.5h0M212.2 176.2h0M279.9 179.9h0M296.8 214.0h0M291.1 199.0h0M262.4 124.2h0M270.0 183.8h0M322.7 198.6h0M190.0 132.6h0M288.7 215.1h0M178.6 202.8h0M297.4 119.7h0M213.7 181.7h0M309.0 200.0h0M302.9 205.4h0M311.4 164.6h0M215.9 166.7h0M182.4 171.7h0M181.3 173.2h0M296.6 204.3h0M271.7 216.1h0M215.4 153.8h0M168.9 162.8h0M166.3 187.4h0M186.3 174.1h0M193.9 146.5h0M268.9 161.0h0M273.5 173.9h0M284.3 131.1h0M303.6 39.6h0M254.7 151.7h0M259.4 191.8h0M201.2 207.2h0M280.6 182.3h0M336.4 182.3h0M258.1 198.3h0M184.1 196.3h0M215.5 181.2h0M189.4 168.3h0M255.5 170.7h0M293.7 187.9h0M180.1 191.2h0M321.0 199.1h0M306.1 207.7h0M189.4 158.0h0M175.8 193.9h0M204.4 196.5h0M276.8 149.9h0M258.1 155.7h0M275.0 181.3h0M282.8 180.7h0M257.7 132.4h0M266.0 182.0h0M261.8 200.1h0M305.8 167.4h0M212.3 171.5h0M191.1 143.4h0M206.6 181.8h0M213.3 138.9h0M215.0 82.2h0M271.8 39.5h0M302.3 185.1h0M210.1 93.8h0M295.6 170.0h0M282.7 169.0h0M206.1 138.2h0M283.6 198.8h0M259.2 173.6h0M195.2 156.6h0M284.8 173.0h0M257.0 192.1h0M210.3 154.7h0M278.2 123.1h0M199.1 161.4h0M178.2 145.7h0M218.1 156.9h0M291.0 158.8h0M186.9 170.8h0M271.0 179.5h0M159.5 201.3h0M179.9 210.5h0M267.8 39.3h0M276.7 179.3h0M281.8 115.5h0M160.5 195.1h0M287.4 174.2h0M193.3 191.0h0M196.3 199.5h0M315.6 197.8h0M271.1 183.4h0M186.7 172.1h0M181.1 154.8h0M190.1 170.2h0M161.3 206.0h0M168.9 198.6h0M254.7 148.2h0M300.7 203.1h0M275.0 168.5h0M194.6 162.5h0M272.5 178.6h0M257.8 39.4h0M217.1 188.0h0M211.3 196.3h0M149.5 208.7h0M317.0 200.6h0M261.7 160.7h0M278.6 190.8h0M216.4 163.0h0M207.1 153.5h0M185.0 177.7h0M258.3 167.8h0M289.4 175.4h0M283.6 194.7h0M150.2 208.9h0M277.5 157.4h0M261.7 103.8h0M187.5 154.8h0M273.3 142.7h0M202.9 168.4h0M200.9 132.8h0M260.1 150.6h0M198.3 215.5h0M284.2 198.5h0M339.0 207.7h0M306.0 179.3h0M265.7 166.2h0M298.7 200.6h0M296.6 152.4h0M193.1 172.6h0M216.7 71.2h0M167.5 205.1h0M292.8 208.8h0M195.3 213.4h0M210.5 176.3h0M327.0 200.7h0M193.6 117.3h0M216.1 184.2h0M182.6 212.5h0M304.6 213.1h0M318.5 197.2h0M202.4 167.9h0M189.9 210.8h0M315.1 201.2h0M212.9 138.7h0M256.5 211.4h0M274.3 213.1h0M175.9 179.8h0M263.9 173.7h0M305.6 157.4h0M320.8 210.7h0M200.4 198.2h0M194.2 153.6h0M208.8 171.3h0M217.4 205.5h0M212.8 201.6h0M162.0 200.4h0M219.2 137.0h0M202.5 198.0h0M267.2 164.1h0M309.9 196.4h0M188.8 162.9h0M273.7 188.8h0M178.1 188.5h0M187.2 191.6h0M269.8 172.8h0M193.5 39.3h0M272.1 155.8h0M210.5 160.5h0M205.3 199.5h0M165.7 198.1h0M255.3 113.3h0M211.4 172.0h0M217.8 74.2h0M268.1 80.7h0M266.0 155.2h0M263.6 195.4h0M322.4 203.3h0M210.2 147.0h0M216.7 174.0h0M311.3 206.3h0M259.3 204.4h0M310.2 201.0h0M214.4 195.1h0M267.9 207.5h0M279.3 157.5h0M261.8 190.6h0M263.8 91.1h0M217.7 204.9h0M272.8 153.9h0M257.7 169.2h0M256.8 200.4h0M213.9 137.7h0M177.1 202.3h0M190.2 215.1h0M302.4 199.3h0M136.1 207.3h0M262.2 155.3h0M158.7 210.3h0M318.1 211.0h0M259.6 146.7h0M217.7 161.8h0M292.8 205.4h0M283.9 166.4h0M195.3 154.5h0M333.9 181.2h0M178.5 212.8h0M275.4 156.9h0M217.7 168.4h0M259.9 176.7h0M206.2 172.1h0M200.9 215.1h0M211.7 104.0h0M255.4 201.1h0M278.4 171.2h0M256.2 214.6h0M294.4 185.4h0M216.0 134.3h0M199.4 160.5h0M283.5 161.6h0M184.8 213.8h0M192.2 214.6h0M183.0 168.2h0M210.1 191.1h0M218.9 203.4h0M275.8 160.4h0M263.9 186.5h0M216.9 166.7h0M319.9 210.8h0M201.2 150.7h0M302.5 136.0h0M313.2 205.9h0M290.9 182.0h0M211.0 162.6h0M263.8 39.4h0M304.7 144.9h0M185.7 178.2h0M290.0 200.8h0M188.5 179.5h0M210.5 117.0h0M167.1 211.4h0M285.3 190.8h0M189.3 210.6h0M218.4 177.0h0M271.6 199.3h0M200.0 103.3h0M299.3 130.0h0M205.7 190.0h0M258.1 185.8h0M217.3 96.9h0M218.4 160.8h0M296.8 201.1h0M191.3 214.5h0M288.5 166.8h0M264.3 163.5h0M297.8 204.1h0M212.1 177.3h0M300.2 150.1h0M212.1 181.9h0M215.5 136.6h0M280.5 199.1h0M209.6 190.8h0M191.9 133.0h0M294.7 205.1h0M255.3 169.9h0M262.7 150.7h0M159.4 192.4h0M295.8 145.5h0M259.0 200.3h0M175.5 180.5h0M206.5 39.5h0M318.5 179.0h0M216.0 145.7h0M156.0 188.3h0M262.0 194.9h0M296.0 210.5h0M281.0 169.1h0M218.7 116.9h0M215.6 166.1h0M289.8 153.1h0M195.5 214.9h0M215.0 198.0h0M306.7 204.0h0M308.2 196.9h0M172.9 211.9h0M317.4 176.2h0M268.0 148.7h0M212.1 39.4h0" stroke="#e80000" stroke-width="1.45" stroke-linecap="round"/>
<text x="164.7" y="45.7" font-size="4.6" fill="#333">FTO</text>
<text x="185.3" y="45.7" font-size="4.6" fill="#333">BCAR3</text>
<text x="207.5" y="45.7" font-size="4.6" fill="#333">NOTCH2</text>
<text x="214.4" y="49.4" font-size="4.6" fill="#333">SVIL</text>
<text x="211.4" y="53.7" font-size="4.6" fill="#333">CLTCL1</text>
<text x="219" y="60.1" font-size="4.6" fill="#333">LINC01320</text>
<text x="213" y="64.2" font-size="4.6" fill="#333">ST6GAL3</text>
<text x="200.6" y="67.6" font-size="4.6" fill="#333">SNAP25-AS1</text>
<text x="197.7" y="74.2" font-size="4.6" fill="#333">PTPRA</text>
<text x="219" y="73.8" font-size="4.6" fill="#333">DPP10</text>
<text x="212" y="78.4" font-size="4.6" fill="#333">STXBP1</text>
<text x="191.5" y="80.0" font-size="4.6" fill="#333">RALA</text>
<text x="168" y="85.2" font-size="4.6" fill="#333">BCL2</text>
<text x="214" y="84.6" font-size="4.6" fill="#333">IL1RAPL2</text>
<text x="198.4" y="89.1" font-size="4.6" fill="#333">PRDM16</text>
<text x="216" y="89.1" font-size="4.6" fill="#333">ARHGAP26</text>
<text x="181.2" y="95.9" font-size="4.6" fill="#333">LINC02256</text>
<text x="208.6" y="97.1" font-size="4.6" fill="#333">HERC2P9</text>
<text x="202.2" y="102.3" font-size="4.6" fill="#333">ZEB1</text>
<text x="214.8" y="104.9" font-size="4.6" fill="#333">SDCCAG8</text>
<text x="201.8" y="109.7" font-size="4.6" fill="#333">PLPPR1</text>
<text x="213.2" y="112.6" font-size="4.6" fill="#333">ALK</text>
<text x="209.8" y="117.7" font-size="4.6" fill="#333">LINC01876</text>
<text x="200" y="121.0" font-size="4.6" fill="#333">NPPR1</text>
<text x="222" y="117.7" font-size="4.6" fill="#333">TSPAN9</text>
<text x="191.5" y="124.5" font-size="4.6" fill="#333">RFX3</text>
<text x="208.6" y="125.7" font-size="4.6" fill="#333">ANXA1</text>
<text x="199.5" y="129.9" font-size="4.6" fill="#333">SPON1</text>
<text x="204" y="134.5" font-size="4.6" fill="#333">CNKSR2</text>
<text x="189.2" y="136.8" font-size="4.6" fill="#333">PTPRU</text>
<text x="222" y="131.7" font-size="4.6" fill="#333">RARS2</text>
<text x="221.4" y="136.0" font-size="4.6" fill="#333">ARHGAP24</text>
<text x="222" y="139.2" font-size="4.6" fill="#333">ZNF609</text>
<text x="222" y="143.2" font-size="4.6" fill="#333">LINC02432</text>
<text x="176.6" y="145.5" font-size="4.6" fill="#333">SCAI</text>
<text x="191.5" y="143.7" font-size="4.6" fill="#333">ZNF718</text>
<text x="208.6" y="148.2" font-size="4.6" fill="#333">OXSR1</text>
<text x="168.6" y="152.4" font-size="4.6" fill="#333">ZNF648RFC3</text>
<text x="204" y="151.2" font-size="4.6" fill="#333">TLL1</text>
<text x="191.5" y="156.9" font-size="4.6" fill="#333">LRRFIP1</text>
<text x="222" y="154.9" font-size="4.6" fill="#333">LINC02098</text>
<text x="222" y="158.7" font-size="4.6" fill="#333">FAM13A</text>
<text x="222" y="162.8" font-size="4.6" fill="#333">KCNQ1</text>
<text x="169.7" y="166.1" font-size="4.6" fill="#333">TRPM4</text>
<text x="184.6" y="162.0" font-size="4.6" fill="#333">MTMR7</text>
<text x="204" y="162.7" font-size="4.6" fill="#333">CHST11</text>
<text x="185.8" y="169.5" font-size="4.6" fill="#333">LINC01105</text>
<text x="204" y="167.2" font-size="4.6" fill="#333">NAV2</text>
<text x="178.9" y="175.6" font-size="4.6" fill="#333">KCNQ5</text>
<text x="222" y="177.5" font-size="4.6" fill="#333">LINC00923</text>
<text x="222" y="182.2" font-size="4.6" fill="#333">LRRC4C</text>
<text x="222" y="186.7" font-size="4.6" fill="#333">ROBO2</text>
<text x="172" y="191.7" font-size="4.6" fill="#333">ADAMTS6</text>
<text x="157.2" y="193.9" font-size="4.6" fill="#333">SPON2</text>
<text x="136.7" y="204.7" font-size="4.6" fill="#333">TRAPPC11</text>
<text x="150.3" y="208.4" font-size="4.6" fill="#333">SLC24A3</text>
<text x="148" y="215.2" font-size="4.6" fill="#333">TOP1MT</text>
<text x="177.8" y="220.5" font-size="4.6" fill="#333">ZNF736</text>
<text x="196" y="220.5" font-size="4.6" fill="#333">GPR39</text>
<text x="208.6" y="220.5" font-size="4.6" fill="#333">GNG7</text>
<text x="112.2" y="208.4" font-size="4.6" fill="#333">LINC02434</text>
<text x="128.2" y="212.9" font-size="4.6" fill="#333">GNAQ</text>
<text x="256.5" y="45.7" font-size="4.6" fill="#333">KCNH5</text>
<text x="273.2" y="45.7" font-size="4.6" fill="#333">EBNA1BP2</text>
<text x="302.9" y="45.7" font-size="4.6" fill="#333">WWC1</text>
<text x="269.3" y="57.8" font-size="4.6" fill="#333">ZFPM2</text>
<text x="291.5" y="55.0" font-size="4.6" fill="#333">SAMD12-AS1</text>
<text x="257.2" y="63.5" font-size="4.6" fill="#333">PIEZO2</text>
<text x="288" y="64.7" font-size="4.6" fill="#333">TENM4</text>
<text x="264" y="75.0" font-size="4.6" fill="#333">RIPOR3</text>
<text x="271.6" y="79.1" font-size="4.6" fill="#333">ERC1</text>
<text x="284" y="79.1" font-size="4.6" fill="#333">DUX4L45</text>
<text x="259.5" y="86.3" font-size="4.6" fill="#333">KCNMA1</text>
<text x="280" y="86.3" font-size="4.6" fill="#333">ODAD2</text>
<text x="260.1" y="93.6" font-size="4.6" fill="#333">CDH8</text>
<text x="277.8" y="93.6" font-size="4.6" fill="#333">COG6</text>
<text x="286.9" y="98.7" font-size="4.6" fill="#333">PUDP</text>
<text x="263.6" y="100.0" font-size="4.6" fill="#333">SPIRE1</text>
<text x="262.4" y="105.1" font-size="4.6" fill="#333">RAPH1</text>
<text x="277.3" y="105.1" font-size="4.6" fill="#333">LINC02406</text>
<text x="304.8" y="107.8" font-size="4.6" fill="#333">ENPEP</text>
<text x="269.7" y="109.7" font-size="4.6" fill="#333">SGO1-AS1</text>
<text x="286.2" y="114.7" font-size="4.6" fill="#333">ADGRE1</text>
<text x="262.9" y="114.7" font-size="4.6" fill="#333">DBI1-AS1</text>
<text x="257.2" y="119.2" font-size="4.6" fill="#333">BAALC</text>
<text x="277" y="121.1" font-size="4.6" fill="#333">ERBIN</text>
<text x="276.6" y="125.7" font-size="4.6" fill="#333">SLYAT</text>
<text x="333.8" y="117.0" font-size="4.6" fill="#333">PJA2</text>
<text x="254.9" y="133.6" font-size="4.6" fill="#333">STN1</text>
<text x="270.9" y="134.1" font-size="4.6" fill="#333">TCF4</text>
<text x="286.9" y="136.4" font-size="4.6" fill="#333">ZNF573</text>
<text x="304.8" y="138.6" font-size="4.6" fill="#333">DOCK10</text>
<text x="257.2" y="138.2" font-size="4.6" fill="#333">ESHZ3</text>
<text x="277.8" y="141.4" font-size="4.6" fill="#333">LINC02511</text>
<text x="264" y="143.7" font-size="4.6" fill="#333">DOCK4</text>
<text x="260.6" y="148.2" font-size="4.6" fill="#333">PARD3</text>
<text x="266.3" y="151.2" font-size="4.6" fill="#333">NFIA</text>
<text x="289.2" y="151.2" font-size="4.6" fill="#333">PHRETR1</text>
<text x="259.5" y="155.8" font-size="4.6" fill="#333">FOXP1</text>
<text x="289.2" y="161.1" font-size="4.6" fill="#333">RUNX2</text>
<text x="320" y="160.7" font-size="4.6" fill="#333">GRAMD1B</text>
<text x="276.6" y="166.1" font-size="4.6" fill="#333">MEIS2</text>
<text x="287" y="166.1" font-size="4.6" fill="#333">PPP1R3C</text>
<text x="300.6" y="169.5" font-size="4.6" fill="#333">CFDP1</text>
<text x="297.2" y="174.2" font-size="4.6" fill="#333">SMYD3</text>
<text x="292.6" y="176.8" font-size="4.6" fill="#333">ANKRD6</text>
<text x="290" y="180.2" font-size="4.6" fill="#333">PAPPA2</text>
<text x="322.1" y="186.0" font-size="4.6" fill="#333">CORO2B</text>
<text x="317" y="200.8" font-size="4.6" fill="#333">PLXNA2</text>
<text x="366.9" y="207.8" font-size="4.6" fill="#333">PRG4</text>
<text x="349.3" y="212.8" font-size="4.6" fill="#333">DHRS11</text>
<text x="340.1" y="214.0" font-size="4.6" fill="#333">BID</text>
<text x="331" y="215.1" font-size="4.6" fill="#333">CIB4</text>
<text x="321" y="217.4" font-size="4.6" fill="#333">EGR3</text>
<text x="303" y="220.0" font-size="4.6" fill="#333">RAD51L</text>
<text x="285.8" y="221.2" font-size="4.6" fill="#333">OR2T2</text>
<line x1="47.4" y1="216.6" x2="428" y2="216.6" stroke="#333" stroke-width="0.9" stroke-dasharray="3,1.8"/>
<line x1="221.02" y1="35.6" x2="221.02" y2="226" stroke="#111" stroke-width="0.85" stroke-dasharray="2.6,1.6"/>
<line x1="253.98" y1="35.6" x2="253.98" y2="226" stroke="#111" stroke-width="0.85" stroke-dasharray="2.6,1.6"/>
<line x1="47.1" y1="35.6" x2="47.1" y2="226.8" stroke="#111" stroke-width="1.6"/>
<line x1="46.3" y1="226" x2="428" y2="226" stroke="#111" stroke-width="1.6"/>
<line x1="45.6" y1="217.00" x2="47.4" y2="217.00" stroke="#111" stroke-width="0.9"/>
<text x="43" y="222.60" font-size="6.9" fill="#444" text-anchor="end">0</text>
<line x1="45.6" y1="188.10" x2="47.4" y2="188.10" stroke="#111" stroke-width="0.9"/>
<text x="43" y="193.70" font-size="6.9" fill="#444" text-anchor="end">50</text>
<line x1="45.6" y1="159.20" x2="47.4" y2="159.20" stroke="#111" stroke-width="0.9"/>
<text x="43" y="164.80" font-size="6.9" fill="#444" text-anchor="end">100</text>
<line x1="45.6" y1="130.30" x2="47.4" y2="130.30" stroke="#111" stroke-width="0.9"/>
<text x="43" y="135.90" font-size="6.9" fill="#444" text-anchor="end">150</text>
<line x1="45.6" y1="101.40" x2="47.4" y2="101.40" stroke="#111" stroke-width="0.9"/>
<text x="43" y="107.00" font-size="6.9" fill="#444" text-anchor="end">200</text>
<line x1="45.6" y1="72.50" x2="47.4" y2="72.50" stroke="#111" stroke-width="0.9"/>
<text x="43" y="78.10" font-size="6.9" fill="#444" text-anchor="end">250</text>
<line x1="45.6" y1="43.60" x2="47.4" y2="43.60" stroke="#111" stroke-width="0.9"/>
<text x="43" y="49.20" font-size="6.9" fill="#444" text-anchor="end">300</text>
<line x1="72.70" y1="226" x2="72.70" y2="227.8" stroke="#111" stroke-width="0.9"/>
<text x="72.70" y="235.6" font-size="6.9" fill="#444" text-anchor="middle">-20</text>
<line x1="113.90" y1="226" x2="113.90" y2="227.8" stroke="#111" stroke-width="0.9"/>
<text x="113.90" y="235.6" font-size="6.9" fill="#444" text-anchor="middle">-15</text>
<line x1="155.10" y1="226" x2="155.10" y2="227.8" stroke="#111" stroke-width="0.9"/>
<text x="155.10" y="235.6" font-size="6.9" fill="#444" text-anchor="middle">-10</text>
<line x1="196.30" y1="226" x2="196.30" y2="227.8" stroke="#111" stroke-width="0.9"/>
<text x="196.30" y="235.6" font-size="6.9" fill="#444" text-anchor="middle">-5</text>
<line x1="237.50" y1="226" x2="237.50" y2="227.8" stroke="#111" stroke-width="0.9"/>
<text x="237.50" y="235.6" font-size="6.9" fill="#444" text-anchor="middle">0</text>
<line x1="278.70" y1="226" x2="278.70" y2="227.8" stroke="#111" stroke-width="0.9"/>
<text x="278.70" y="235.6" font-size="6.9" fill="#444" text-anchor="middle">5</text>
<line x1="319.90" y1="226" x2="319.90" y2="227.8" stroke="#111" stroke-width="0.9"/>
<text x="319.90" y="235.6" font-size="6.9" fill="#444" text-anchor="middle">10</text>
<line x1="361.10" y1="226" x2="361.10" y2="227.8" stroke="#111" stroke-width="0.9"/>
<text x="361.10" y="235.6" font-size="6.9" fill="#444" text-anchor="middle">15</text>
<line x1="402.30" y1="226" x2="402.30" y2="227.8" stroke="#111" stroke-width="0.9"/>
<text x="402.30" y="235.6" font-size="6.9" fill="#444" text-anchor="middle">20</text>
<text transform="translate(24.2,129.3) rotate(-90)" font-size="7.6" fill="#222" text-anchor="middle">&#8722;Log<tspan font-size="4.9" dy="1.6">10</tspan><tspan dy="-1.6"> adjusted P</tspan></text>
<text x="238.7" y="244.8" font-size="7.2" fill="#222" text-anchor="middle">Log<tspan font-size="5.5" dy="1.8">2</tspan><tspan dy="-1.8"> fold change</tspan></text>
<circle cx="136.7" cy="260.8" r="2.15" fill="#333"/><text x="141.2" y="262.9" font-size="7" fill="#222">NS</text>
<circle cx="162.6" cy="260.8" r="2.15" fill="#2e9a3a"/><text x="167.3" y="262.9" font-size="7" fill="#222">Log2 fold-change</text>
<circle cx="225.9" cy="260.8" r="2.15" fill="#4463c4"/><text x="231.1" y="262.9" font-size="7" fill="#222">Padj</text>
<circle cx="259" cy="260.8" r="2.15" fill="#e8261c"/><text x="265.3" y="262.9" font-size="7" fill="#222">Padj &amp; Log2 fold-change</text>
<text x="425.8" y="280.3" font-size="7" fill="#222" text-anchor="end">Total = 4855 variables</text>
<text x="89" y="313.2" font-size="12" fill="#222">B</text>
<text transform="translate(176.60,298.10) scale(0.8850,1)" font-size="6.55" fill="#222" stroke="#222" stroke-width="0.1">top 1307 genes increased rDNA contacts</text>
<path d="M107.5,309.2 V303.2 H347.8 V309.2" fill="none" stroke="#777" stroke-width="0.7"/>
<text transform="translate(182.20,313.30) scale(0.8850,1)" font-size="6.55" fill="#222" stroke="#222" stroke-width="0.1">Biological process</text>
<text transform="translate(251.60,313.30) scale(0.8850,1)" font-size="6.55" fill="#222" stroke="#222" stroke-width="0.1">FDR=0%</text>
<text transform="translate(230.00,327.30) scale(0.8850,1)" font-size="5.65" fill="#222" stroke="#222" stroke-width="0.1" text-anchor="end">regulation of cellular process</text>
<rect x="233.3" y="322.25" width="92.40" height="5.5" fill="#8b8885"/>
<text transform="translate(328.10,327.60) scale(0.8850,1)" font-size="6.67" fill="#222" stroke="#222" stroke-width="0.1">648</text>
<text transform="translate(230.00,334.70) scale(0.8850,1)" font-size="5.65" fill="#222" stroke="#222" stroke-width="0.1" text-anchor="end">biological regulation</text>
<rect x="233.3" y="329.85" width="68.00" height="5.5" fill="#8b8885"/>
<text transform="translate(303.70,335.20) scale(0.8850,1)" font-size="6.67" fill="#222" stroke="#222" stroke-width="0.1">711</text>
<text transform="translate(230.00,342.70) scale(0.8850,1)" font-size="5.65" fill="#222" stroke="#222" stroke-width="0.1" text-anchor="end">regulation of biological process</text>
<rect x="233.3" y="337.95" width="64.70" height="5.5" fill="#8b8885"/>
<text transform="translate(300.40,343.30) scale(0.8850,1)" font-size="6.67" fill="#222" stroke="#222" stroke-width="0.1">681</text>
<text transform="translate(230.00,351.40) scale(0.8850,1)" font-size="5.65" fill="#222" stroke="#222" stroke-width="0.1" text-anchor="end">plasma membrane bounded cell projection organization</text>
<rect x="233.3" y="345.45" width="62.70" height="5.5" fill="#8b8885"/>
<text transform="translate(298.40,350.80) scale(0.8850,1)" font-size="6.67" fill="#222" stroke="#222" stroke-width="0.1">128</text>
<text transform="translate(230.00,357.80) scale(0.8850,1)" font-size="5.65" fill="#222" stroke="#222" stroke-width="0.1" text-anchor="end">cell projection organization</text>
<rect x="233.3" y="353.05" width="57.70" height="5.5" fill="#8b8885"/>
<text transform="translate(293.40,358.40) scale(0.8850,1)" font-size="6.67" fill="#222" stroke="#222" stroke-width="0.1">300</text>
<text transform="translate(230.00,365.80) scale(0.8850,1)" font-size="5.65" fill="#222" stroke="#222" stroke-width="0.1" text-anchor="end">multicellular organism development</text>
<rect x="233.3" y="360.55" width="55.10" height="5.5" fill="#8b8885"/>
<text transform="translate(290.80,365.90) scale(0.8850,1)" font-size="6.67" fill="#222" stroke="#222" stroke-width="0.1">520</text>
<text transform="translate(230.00,372.50) scale(0.8850,1)" font-size="5.65" fill="#222" stroke="#222" stroke-width="0.1" text-anchor="end">response to stimulus</text>
<rect x="233.3" y="367.85" width="52.60" height="5.5" fill="#8b8885"/>
<text transform="translate(288.30,373.20) scale(0.8850,1)" font-size="6.67" fill="#222" stroke="#222" stroke-width="0.1">264</text>
<text transform="translate(230.00,380.30) scale(0.8850,1)" font-size="5.65" fill="#222" stroke="#222" stroke-width="0.1" text-anchor="end">system development</text>
<rect x="233.3" y="375.75" width="51.60" height="5.5" fill="#8b8885"/>
<text transform="translate(287.30,381.10) scale(0.8850,1)" font-size="6.67" fill="#222" stroke="#222" stroke-width="0.1">264</text>
<text transform="translate(230.00,387.60) scale(0.8850,1)" font-size="5.65" fill="#222" stroke="#222" stroke-width="0.1" text-anchor="end">cell differentiation</text>
<rect x="233.3" y="382.75" width="48.80" height="5.5" fill="#8b8885"/>
<text transform="translate(284.50,388.10) scale(0.8850,1)" font-size="6.67" fill="#222" stroke="#222" stroke-width="0.1">281</text>
<text transform="translate(230.00,395.00) scale(0.8850,1)" font-size="5.65" fill="#222" stroke="#222" stroke-width="0.1" text-anchor="end">cellular response to stimulus</text>
<rect x="233.3" y="390.25" width="46.60" height="5.5" fill="#8b8885"/>
<text transform="translate(282.30,395.60) scale(0.8850,1)" font-size="6.67" fill="#222" stroke="#222" stroke-width="0.1">444</text>
<line x1="231.8" y1="398.4" x2="339" y2="398.4" stroke="#555" stroke-width="0.6"/>
<line x1="233.30" y1="398.4" x2="233.30" y2="400.2" stroke="#555" stroke-width="0.6"/>
<text transform="translate(233.30,407.60) scale(0.8850,1)" font-size="6.78" fill="#222" stroke="#222" stroke-width="0.1" text-anchor="middle">0</text>
<line x1="265.30" y1="398.4" x2="265.30" y2="400.2" stroke="#555" stroke-width="0.6"/>
<text transform="translate(265.30,407.60) scale(0.8850,1)" font-size="6.78" fill="#222" stroke="#222" stroke-width="0.1" text-anchor="middle">5</text>
<line x1="297.30" y1="398.4" x2="297.30" y2="400.2" stroke="#555" stroke-width="0.6"/>
<text transform="translate(297.30,407.60) scale(0.8850,1)" font-size="6.78" fill="#222" stroke="#222" stroke-width="0.1" text-anchor="middle">10</text>
<line x1="329.30" y1="398.4" x2="329.30" y2="400.2" stroke="#555" stroke-width="0.6"/>
<text transform="translate(329.30,407.60) scale(0.8850,1)" font-size="6.78" fill="#222" stroke="#222" stroke-width="0.1" text-anchor="middle">15</text>
<text transform="translate(264.40,415.40) scale(0.8850,1)" font-size="6.44" fill="#222" stroke="#222" stroke-width="0.1" text-anchor="middle">&#8211; log10(padj)</text>
<text x="107.8" y="442" font-size="12" fill="#222">C</text>
<text transform="translate(192.00,429.10) scale(0.8850,1)" font-size="6.55" fill="#222" stroke="#222" stroke-width="0.1">top 1200 genes decreased rDNA contacts</text>
<path d="M135.8,439.3 V433.3 H342.8 V439.3" fill="none" stroke="#777" stroke-width="0.7"/>
<text transform="translate(177.20,443.50) scale(0.8850,1)" font-size="6.55" fill="#222" stroke="#222" stroke-width="0.1">Biological process</text>
<text transform="translate(246.20,443.50) scale(0.8850,1)" font-size="6.55" fill="#222" stroke="#222" stroke-width="0.1">FDR=0%</text>
<text transform="translate(224.60,457.90) scale(0.8850,1)" font-size="5.65" fill="#222" stroke="#222" stroke-width="0.1" text-anchor="end">developmental process</text>
<rect x="228" y="452.65" width="106.50" height="5.5" fill="#8b8885"/>
<text transform="translate(336.90,458.00) scale(0.8850,1)" font-size="6.67" fill="#222" stroke="#222" stroke-width="0.1">358</text>
<text transform="translate(224.60,465.60) scale(0.8850,1)" font-size="5.65" fill="#222" stroke="#222" stroke-width="0.1" text-anchor="end">multicellular organism development</text>
<rect x="228" y="460.15" width="94.60" height="5.5" fill="#8b8885"/>
<text transform="translate(325.00,465.50) scale(0.8850,1)" font-size="6.67" fill="#222" stroke="#222" stroke-width="0.1">273</text>
<text transform="translate(224.60,472.30) scale(0.8850,1)" font-size="5.65" fill="#222" stroke="#222" stroke-width="0.1" text-anchor="end">regulation of cellular process</text>
<rect x="228" y="468.15" width="87.20" height="5.5" fill="#8b8885"/>
<text transform="translate(317.60,473.50) scale(0.8850,1)" font-size="6.67" fill="#222" stroke="#222" stroke-width="0.1">553</text>
<text transform="translate(224.60,480.30) scale(0.8850,1)" font-size="5.65" fill="#222" stroke="#222" stroke-width="0.1" text-anchor="end">system development</text>
<rect x="228" y="475.55" width="86.30" height="5.5" fill="#8b8885"/>
<text transform="translate(316.70,480.90) scale(0.8850,1)" font-size="6.67" fill="#222" stroke="#222" stroke-width="0.1">255</text>
<text transform="translate(224.60,488.30) scale(0.8850,1)" font-size="5.65" fill="#222" stroke="#222" stroke-width="0.1" text-anchor="end">anatomical structure development</text>
<rect x="228" y="483.05" width="84.80" height="5.5" fill="#8b8885"/>
<text transform="translate(315.20,488.40) scale(0.8850,1)" font-size="6.67" fill="#222" stroke="#222" stroke-width="0.1">328</text>
<text transform="translate(224.60,496.00) scale(0.8850,1)" font-size="5.65" fill="#222" stroke="#222" stroke-width="0.1" text-anchor="end">cellular developmental process</text>
<rect x="228" y="490.45" width="70.80" height="5.5" fill="#8b8885"/>
<text transform="translate(301.20,495.80) scale(0.8850,1)" font-size="6.67" fill="#222" stroke="#222" stroke-width="0.1">245</text>
<text transform="translate(224.60,503.40) scale(0.8850,1)" font-size="5.65" fill="#222" stroke="#222" stroke-width="0.1" text-anchor="end">nervous system development</text>
<rect x="228" y="497.95" width="68.40" height="5.5" fill="#8b8885"/>
<text transform="translate(298.80,503.30) scale(0.8850,1)" font-size="6.67" fill="#222" stroke="#222" stroke-width="0.1">159</text>
<text transform="translate(224.60,510.80) scale(0.8850,1)" font-size="5.65" fill="#222" stroke="#222" stroke-width="0.1" text-anchor="end">cell differentiation</text>
<rect x="228" y="505.35" width="67.80" height="5.5" fill="#8b8885"/>
<text transform="translate(298.20,510.70) scale(0.8850,1)" font-size="6.67" fill="#222" stroke="#222" stroke-width="0.1">243</text>
<text transform="translate(224.60,517.80) scale(0.8850,1)" font-size="5.65" fill="#222" stroke="#222" stroke-width="0.1" text-anchor="end">anatomical structure morphogenesis</text>
<rect x="228" y="513.05" width="65.50" height="5.5" fill="#8b8885"/>
<text transform="translate(295.90,518.40) scale(0.8850,1)" font-size="6.67" fill="#222" stroke="#222" stroke-width="0.1">165</text>
<text transform="translate(224.60,525.20) scale(0.8850,1)" font-size="5.65" fill="#222" stroke="#222" stroke-width="0.1" text-anchor="end">regulation of biological process</text>
<rect x="228" y="520.55" width="63.10" height="5.5" fill="#8b8885"/>
<text transform="translate(293.50,525.90) scale(0.8850,1)" font-size="6.67" fill="#222" stroke="#222" stroke-width="0.1">585</text>
<line x1="226.5" y1="530.3" x2="334" y2="530.3" stroke="#555" stroke-width="0.6"/>
<line x1="228.00" y1="530.3" x2="228.00" y2="532.0999999999999" stroke="#555" stroke-width="0.6"/>
<text transform="translate(228.00,539.50) scale(0.8850,1)" font-size="6.78" fill="#222" stroke="#222" stroke-width="0.1" text-anchor="middle">0</text>
<line x1="259.70" y1="530.3" x2="259.70" y2="532.0999999999999" stroke="#555" stroke-width="0.6"/>
<text transform="translate(259.70,539.50) scale(0.8850,1)" font-size="6.78" fill="#222" stroke="#222" stroke-width="0.1" text-anchor="middle">2</text>
<line x1="291.40" y1="530.3" x2="291.40" y2="532.0999999999999" stroke="#555" stroke-width="0.6"/>
<text transform="translate(291.40,539.50) scale(0.8850,1)" font-size="6.78" fill="#222" stroke="#222" stroke-width="0.1" text-anchor="middle">4</text>
<line x1="323.10" y1="530.3" x2="323.10" y2="532.0999999999999" stroke="#555" stroke-width="0.6"/>
<text transform="translate(323.10,539.50) scale(0.8850,1)" font-size="6.78" fill="#222" stroke="#222" stroke-width="0.1" text-anchor="middle">8</text>
<text transform="translate(273.80,545.50) scale(0.8850,1)" font-size="6.44" fill="#222" stroke="#222" stroke-width="0.1" text-anchor="middle">&#8211; log10(padj)</text>
</svg></body></html>
